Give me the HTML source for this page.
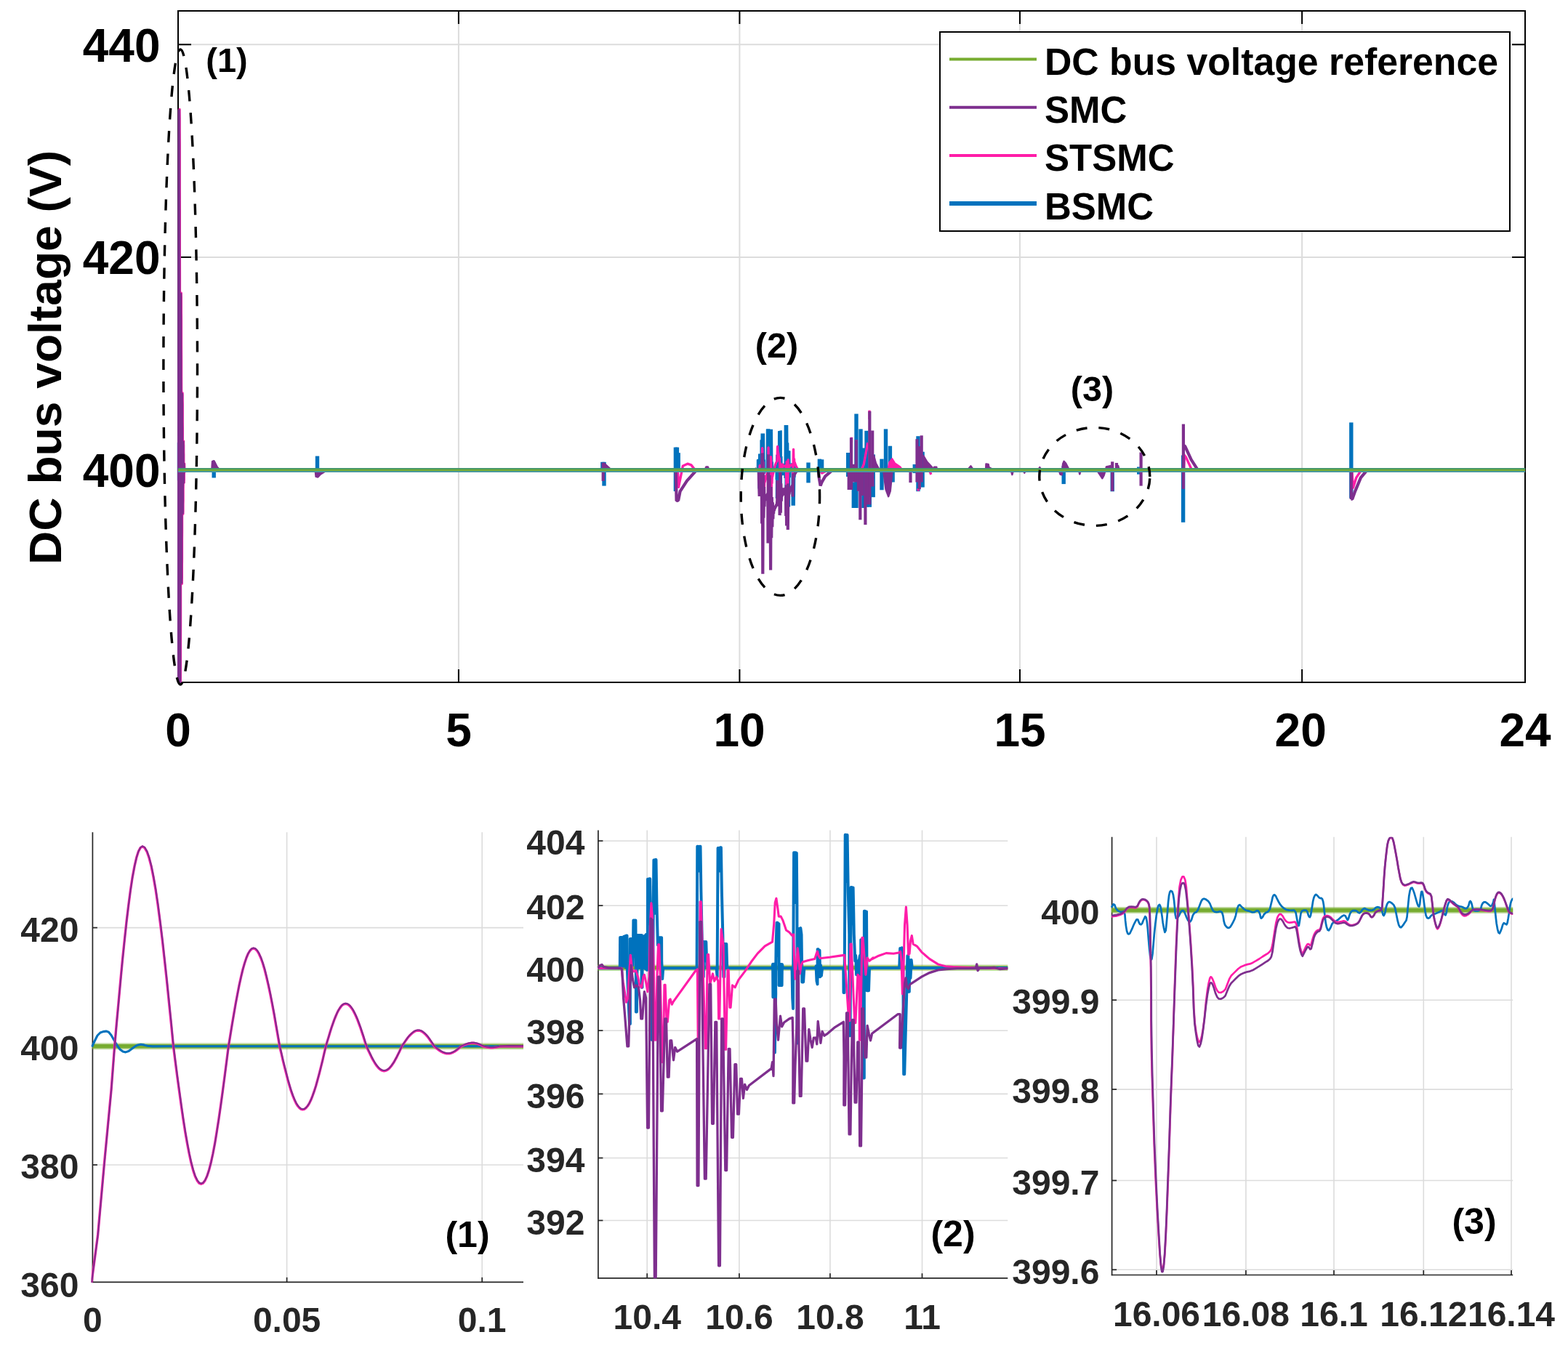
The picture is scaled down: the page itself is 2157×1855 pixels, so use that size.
<!DOCTYPE html>
<html lang="en">
<head>
<meta charset="utf-8">
<title>DC bus voltage</title>
<style>
html,body{margin:0;padding:0;background:#fff;}
body{width:2157px;height:1855px;overflow:hidden;}
svg{display:block;}
</style>
</head>
<body>
<svg width="2157" height="1855" viewBox="0 0 2157 1855" font-family='"Liberation Sans", sans-serif' font-weight="bold">
<rect x="0" y="0" width="2157" height="1855" fill="#fff"/>
<g id="main">
<line x1="630.90" y1="15.00" x2="630.90" y2="939.00" stroke="#dcdcdc" stroke-width="2" />
<line x1="1017.40" y1="15.00" x2="1017.40" y2="939.00" stroke="#dcdcdc" stroke-width="2" />
<line x1="1403.00" y1="15.00" x2="1403.00" y2="939.00" stroke="#dcdcdc" stroke-width="2" />
<line x1="1791.10" y1="15.00" x2="1791.10" y2="939.00" stroke="#dcdcdc" stroke-width="2" />
<line x1="245.00" y1="646.50" x2="2098.00" y2="646.50" stroke="#dcdcdc" stroke-width="2" />
<line x1="245.00" y1="353.90" x2="2098.00" y2="353.90" stroke="#dcdcdc" stroke-width="2" />
<line x1="245.00" y1="61.30" x2="2098.00" y2="61.30" stroke="#dcdcdc" stroke-width="2" />
<rect x="245.0" y="15.0" width="1853.0" height="924.0" fill="none" stroke="#000" stroke-width="2"/>
<line x1="630.90" y1="939.00" x2="630.90" y2="921.00" stroke="#000" stroke-width="2" />
<line x1="630.90" y1="15.00" x2="630.90" y2="33.00" stroke="#000" stroke-width="2" />
<line x1="1017.40" y1="939.00" x2="1017.40" y2="921.00" stroke="#000" stroke-width="2" />
<line x1="1017.40" y1="15.00" x2="1017.40" y2="33.00" stroke="#000" stroke-width="2" />
<line x1="1403.00" y1="939.00" x2="1403.00" y2="921.00" stroke="#000" stroke-width="2" />
<line x1="1403.00" y1="15.00" x2="1403.00" y2="33.00" stroke="#000" stroke-width="2" />
<line x1="1791.10" y1="939.00" x2="1791.10" y2="921.00" stroke="#000" stroke-width="2" />
<line x1="1791.10" y1="15.00" x2="1791.10" y2="33.00" stroke="#000" stroke-width="2" />
<line x1="245.00" y1="646.50" x2="263.00" y2="646.50" stroke="#000" stroke-width="2" />
<line x1="2098.00" y1="646.50" x2="2080.00" y2="646.50" stroke="#000" stroke-width="2" />
<line x1="245.00" y1="353.90" x2="263.00" y2="353.90" stroke="#000" stroke-width="2" />
<line x1="2098.00" y1="353.90" x2="2080.00" y2="353.90" stroke="#000" stroke-width="2" />
<line x1="245.00" y1="61.30" x2="263.00" y2="61.30" stroke="#000" stroke-width="2" />
<line x1="2098.00" y1="61.30" x2="2080.00" y2="61.30" stroke="#000" stroke-width="2" />
<clipPath id="cm"><rect x="243.8" y="15" width="1855.4" height="925"/></clipPath>
<g clip-path="url(#cm)">
<polyline points="245.3,647.9 245.3,634.4 245.4,620.0 245.5,612.8 245.5,610.3 245.6,609.4 245.6,611.3 245.7,619.1 245.7,631.7 245.8,644.3 245.8,654.3 245.9,659.7 246.0,661.3 246.0,658.8 246.1,653.4 246.1,647.9 246.2,643.8 246.3,642.2 246.3,643.3 246.4,645.6 246.5,646.9 246.8,646.5 253.9,646.5" fill="none" stroke="#0072BD" stroke-width="5.4" stroke-linejoin="bevel" stroke-linecap="butt" />
<polyline points="294.2,646.3 294.2,657.5" fill="none" stroke="#0072BD" stroke-width="5.4" stroke-linejoin="bevel" stroke-linecap="butt" />
<polyline points="436.5,627.6 436.5,650.7" fill="none" stroke="#0072BD" stroke-width="5.4" stroke-linejoin="bevel" stroke-linecap="butt" />
<polyline points="828.9,635.8 828.9,646.4" fill="none" stroke="#0072BD" stroke-width="5.4" stroke-linejoin="bevel" stroke-linecap="butt" />
<polyline points="831.0,635.8 831.0,668.6" fill="none" stroke="#0072BD" stroke-width="5.4" stroke-linejoin="bevel" stroke-linecap="butt" />
<polyline points="929.4,615.6 929.4,676.1" fill="none" stroke="#0072BD" stroke-width="5.4" stroke-linejoin="bevel" stroke-linecap="butt" />
<polyline points="931.4,615.6 931.4,646.4" fill="none" stroke="#0072BD" stroke-width="5.4" stroke-linejoin="bevel" stroke-linecap="butt" />
<polyline points="933.2,623.2 933.2,646.4" fill="none" stroke="#0072BD" stroke-width="5.4" stroke-linejoin="bevel" stroke-linecap="butt" />
<polyline points="1039.7,646.7 1043.4,646.7 1043.5,632.5 1043.6,644.2 1043.7,632.5 1043.8,645.9 1043.9,632.5 1043.9,639.9 1044.1,632.1 1044.2,645.3 1044.3,631.9 1044.4,646.3 1044.5,631.7 1044.6,647.3 1044.7,655.6 1045.1,672.5 1045.2,633.1 1045.3,642.4 1045.4,633.1 1045.5,645.3 1045.6,633.1 1045.7,624.6 1045.9,641.2 1046.0,624.6 1046.1,646.8 1046.2,666.9 1046.4,631.5 1046.5,646.6 1046.6,631.5 1046.7,646.3 1046.8,631.5 1046.9,646.0 1047.0,631.5 1047.1,655.6 1047.2,632.6 1047.3,646.1 1047.4,632.1 1047.5,646.5 1047.6,631.6 1047.7,647.0 1047.8,631.2 1047.9,647.5 1048.1,630.7 1048.1,605.5 1048.2,626.2 1048.4,605.3 1048.6,626.2 1048.7,645.8 1048.8,679.9 1049.0,616.4 1049.2,596.6 1049.3,621.3 1049.4,596.5 1049.6,616.4 1049.8,636.0 1049.9,632.6 1050.0,644.2 1050.1,632.6 1050.2,645.9 1050.3,632.6 1050.4,643.4 1050.5,651.7 1050.7,646.7 1056.3,646.7 1056.5,590.4 1056.7,601.7 1056.9,590.4 1057.0,611.5 1057.2,636.0 1057.4,650.7 1057.5,634.5 1057.7,643.4 1057.8,634.5 1058.0,646.7 1059.6,646.7 1059.8,650.7 1059.9,591.1 1060.1,601.7 1060.3,590.9 1060.5,611.5 1060.7,631.1 1060.9,650.7 1061.0,635.5 1061.1,644.8 1061.3,635.5 1061.4,646.7 1062.6,646.7 1062.6,646.7 1069.0,646.7 1069.1,644.8 1069.2,660.1 1069.3,644.8 1069.4,659.3 1069.5,644.8 1069.6,658.6 1069.4,685.8 1069.7,636.0 1069.8,625.7 1070.0,640.9 1070.1,626.2 1070.2,654.6 1070.3,644.9 1070.4,654.6 1070.5,644.9 1070.6,654.6 1070.7,644.9 1070.8,646.7 1072.3,646.7 1072.4,660.5 1072.5,665.4 1072.6,613.4 1072.7,593.2 1072.9,616.4 1073.0,593.2 1073.1,593.4 1073.2,616.4 1073.3,681.4 1073.4,636.0 1073.5,628.4 1073.7,645.8 1073.8,628.1 1073.9,631.1 1074.0,653.2 1074.1,646.7 1074.2,653.2 1074.4,646.7 1076.3,646.7 1076.4,645.8 1076.5,652.7 1076.6,654.1 1076.7,638.0 1076.8,650.7 1076.9,638.4 1077.1,650.7 1077.2,645.3 1077.3,650.2 1077.4,646.7 1081.0,646.7 1081.1,658.1 1081.3,611.5 1081.3,585.0 1081.5,606.6 1081.6,585.1 1081.7,596.7 1081.8,611.5 1082.0,631.1 1082.1,677.9 1082.2,626.2 1082.3,609.3 1082.4,626.2 1082.6,609.4 1082.7,621.3 1082.8,631.1 1082.9,643.4 1083.1,640.9 1083.2,649.7 1083.3,643.4 1083.5,650.7 1083.6,643.4 1083.7,640.9 1083.8,650.7 1083.9,633.5 1084.1,636.0 1084.3,655.6 1084.4,697.6 1084.6,620.3 1084.7,633.5 1084.8,620.5 1084.9,636.0 1085.0,657.1 1085.1,647.3 1085.2,657.1 1085.4,646.7 1085.8,646.7 1085.8,646.6 1090.4,646.6 1090.5,637.5 1090.7,645.4 1090.8,637.3 1091.0,646.4 1091.2,695.8 1091.6,656.2 1091.8,641.0 1092.0,657.6 1092.1,642.9 1092.3,651.3 1092.4,642.9 1092.5,646.6 1108.7,646.6" fill="none" stroke="#0072BD" stroke-width="5.4" stroke-linejoin="bevel" stroke-linecap="butt" />
<polyline points="1112.0,636.5 1112.0,664.4" fill="none" stroke="#0072BD" stroke-width="5.4" stroke-linejoin="bevel" stroke-linecap="butt" />
<polyline points="1127.4,631.6 1127.4,648.6" fill="none" stroke="#0072BD" stroke-width="5.4" stroke-linejoin="bevel" stroke-linecap="butt" />
<polyline points="1130.6,632.3 1130.6,648.6" fill="none" stroke="#0072BD" stroke-width="5.4" stroke-linejoin="bevel" stroke-linecap="butt" />
<polyline points="1166.7,623.0 1166.7,656.0" fill="none" stroke="#0072BD" stroke-width="5.4" stroke-linejoin="bevel" stroke-linecap="butt" />
<polyline points="1174.3,663.5 1174.3,699.0" fill="none" stroke="#0072BD" stroke-width="5.4" stroke-linejoin="bevel" stroke-linecap="butt" />
<polyline points="1178.0,569.4 1178.0,699.0" fill="none" stroke="#0072BD" stroke-width="5.4" stroke-linejoin="bevel" stroke-linecap="butt" />
<polyline points="1184.0,590.4 1184.0,651.1" fill="none" stroke="#0072BD" stroke-width="5.4" stroke-linejoin="bevel" stroke-linecap="butt" />
<polyline points="1187.9,616.5 1187.9,699.0" fill="none" stroke="#0072BD" stroke-width="5.4" stroke-linejoin="bevel" stroke-linecap="butt" />
<polyline points="1192.0,592.8 1192.0,697.8" fill="none" stroke="#0072BD" stroke-width="5.4" stroke-linejoin="bevel" stroke-linecap="butt" />
<polyline points="1196.3,651.1 1196.3,697.8" fill="none" stroke="#0072BD" stroke-width="5.4" stroke-linejoin="bevel" stroke-linecap="butt" />
<polyline points="1201.2,625.4 1201.2,684.2" fill="none" stroke="#0072BD" stroke-width="5.4" stroke-linejoin="bevel" stroke-linecap="butt" />
<polyline points="1213.0,631.6 1213.0,674.3" fill="none" stroke="#0072BD" stroke-width="5.4" stroke-linejoin="bevel" stroke-linecap="butt" />
<polyline points="1218.5,590.4 1218.5,651.1" fill="none" stroke="#0072BD" stroke-width="5.4" stroke-linejoin="bevel" stroke-linecap="butt" />
<polyline points="1224.4,613.7 1224.4,663.5" fill="none" stroke="#0072BD" stroke-width="5.4" stroke-linejoin="bevel" stroke-linecap="butt" />
<polyline points="1228.1,638.8 1228.1,663.5" fill="none" stroke="#0072BD" stroke-width="5.4" stroke-linejoin="bevel" stroke-linecap="butt" />
<polyline points="1258.3,639.0 1258.3,651.1" fill="none" stroke="#0072BD" stroke-width="5.4" stroke-linejoin="bevel" stroke-linecap="butt" />
<polyline points="1263.0,600.2 1263.0,676.2" fill="none" stroke="#0072BD" stroke-width="5.4" stroke-linejoin="bevel" stroke-linecap="butt" />
<polyline points="1269.1,621.7 1269.1,670.6" fill="none" stroke="#0072BD" stroke-width="5.4" stroke-linejoin="bevel" stroke-linecap="butt" />
<polyline points="1463.2,641.1 1463.2,666.1" fill="none" stroke="#0072BD" stroke-width="5.4" stroke-linejoin="bevel" stroke-linecap="butt" />
<polyline points="1530.2,646.6 1530.2,676.3" fill="none" stroke="#0072BD" stroke-width="5.4" stroke-linejoin="bevel" stroke-linecap="butt" />
<polyline points="1566.7,642.5 1566.7,652.7" fill="none" stroke="#0072BD" stroke-width="5.4" stroke-linejoin="bevel" stroke-linecap="butt" />
<polyline points="1627.6,626.5 1627.6,718.8" fill="none" stroke="#0072BD" stroke-width="5.4" stroke-linejoin="bevel" stroke-linecap="butt" />
<polyline points="1858.8,581.4 1858.8,685.6" fill="none" stroke="#0072BD" stroke-width="5.4" stroke-linejoin="bevel" stroke-linecap="butt" />
<polyline points="245.9,1263.7 246.0,1231.2 246.1,1115.8 246.2,935.5 246.4,755.2 246.4,646.5 246.5,591.0 246.5,536.1 246.6,482.7 246.6,431.3 246.6,382.6 246.7,337.2 246.7,295.8 246.8,258.7 246.8,226.5 246.8,199.6 246.9,178.3 246.9,162.9 246.9,153.6 247.0,150.5 247.0,153.6 247.1,162.9 247.1,178.3 247.2,199.6 247.2,226.5 247.2,258.7 247.3,295.8 247.3,337.2 247.4,382.6 247.4,431.3 247.5,482.7 247.5,536.1 247.6,591.0 247.6,646.5 247.6,684.7 247.7,722.4 247.7,759.2 247.8,794.6 247.8,828.1 247.8,859.3 247.9,887.8 247.9,913.3 248.0,935.5 248.0,954.0 248.0,968.7 248.1,979.3 248.1,985.7 248.1,987.8 248.2,985.7 248.2,979.3 248.3,968.7 248.3,954.0 248.3,935.5 248.4,913.3 248.4,887.8 248.5,859.3 248.5,828.1 248.5,794.6 248.6,759.2 248.6,722.4 248.7,684.7 248.7,646.5 248.7,619.3 248.8,592.4 248.8,566.2 248.8,541.0 248.9,517.1 248.9,494.9 248.9,474.5 249.0,456.3 249.0,440.6 249.0,427.4 249.1,416.9 249.1,409.4 249.2,404.8 249.2,403.3 249.2,404.8 249.3,409.4 249.3,416.9 249.3,427.4 249.4,440.6 249.4,456.3 249.4,474.5 249.5,494.9 249.5,517.1 249.6,541.0 249.6,566.2 249.6,592.4 249.7,619.3 249.7,646.5 249.7,664.0 249.8,681.4 249.8,698.2 249.8,714.5 249.9,729.9 249.9,744.2 249.9,757.3 250.0,769.0 250.0,779.2 250.0,787.7 250.1,794.4 250.1,799.3 250.1,802.2 250.2,803.2 250.2,802.2 250.2,799.3 250.3,794.4 250.3,787.7 250.3,779.2 250.4,769.0 250.4,757.3 250.4,744.2 250.5,729.9 250.5,714.5 250.5,698.2 250.6,681.4 250.6,664.0 250.6,646.5 250.6,634.7 250.7,622.9 250.7,611.5 250.7,600.6 250.8,590.2 250.8,580.5 250.8,571.7 250.8,563.8 250.9,556.9 250.9,551.1 250.9,546.6 251.0,543.3 251.0,541.3 251.0,540.7 251.0,541.3 251.1,543.3 251.1,546.6 251.1,551.1 251.2,556.9 251.2,563.8 251.2,571.7 251.2,580.5 251.3,590.2 251.3,600.6 251.3,611.5 251.4,622.9 251.4,634.7 251.4,646.5 251.5,653.3 251.5,660.0 251.5,666.6 251.5,672.9 251.6,678.8 251.6,684.4 251.6,689.5 251.6,694.0 251.7,697.9 251.7,701.2 251.7,703.9 251.7,705.7 251.7,706.9 251.8,707.3 251.8,706.9 251.8,705.7 251.9,703.9 251.9,701.2 251.9,697.9 251.9,694.0 252.0,689.5 252.0,684.4 252.0,678.8 252.0,672.9 252.1,666.6 252.1,660.0 252.1,653.3 252.1,646.5 252.2,642.1 252.2,637.7 252.2,633.5 252.2,629.4 252.2,625.5 252.3,621.9 252.3,618.6 252.3,615.6 252.3,613.1 252.4,610.9 252.4,609.2 252.4,608.0 252.4,607.3 252.5,607.0 252.5,607.3 252.5,608.0 252.5,609.2 252.5,610.9 252.6,613.1 252.6,615.6 252.6,618.6 252.6,621.9 252.7,625.5 252.7,629.4 252.7,633.5 252.7,637.7 252.7,642.1 252.8,646.5 252.8,648.5 252.8,650.5 252.8,652.4 252.8,654.2 252.9,656.0 252.9,657.6 252.9,659.1 252.9,660.5 252.9,661.6 253.0,662.6 253.0,663.3 253.0,663.9 253.0,664.2 253.0,664.3 253.1,664.2 253.1,663.9 253.1,663.3 253.1,662.6 253.1,661.6 253.2,660.5 253.2,659.1 253.2,657.6 253.2,656.0 253.2,654.2 253.2,652.4 253.3,650.5 253.3,648.5 253.3,646.5 253.3,645.6 253.3,644.6 253.3,643.7 253.4,642.8 253.4,642.0 253.4,641.2 253.4,640.5 253.4,639.9 253.4,639.3 253.5,638.9 253.5,638.5 253.5,638.2 253.5,638.1 253.5,638.0 253.5,638.1 253.6,638.2 253.6,638.5 253.6,638.9 253.6,639.3 253.6,639.9 253.6,640.5 253.7,641.2 253.7,642.0 253.7,642.8 253.7,643.7 253.7,644.6 253.7,645.6 253.7,646.5 253.8,646.8 253.8,647.2 253.8,647.5 253.8,647.8 253.8,648.1 253.8,648.4 253.8,648.7 253.8,648.9 253.8,649.1 253.9,649.3 253.9,649.4 253.9,649.5 253.9,649.5 253.9,649.6 253.9,649.5 253.9,649.5 253.9,649.4 254.0,649.3 254.0,649.1 254.0,648.9 254.0,648.7 254.0,648.4 254.0,648.1 254.0,647.8 254.0,647.5 254.1,647.2 254.1,646.8 254.1,646.5 254.2,645.6 254.6,646.1" fill="none" stroke="#FF1DA8" stroke-width="3.4" stroke-linejoin="round" stroke-linecap="butt" />
<polyline points="932.3,646.4 933.5,670.3 936.4,655.8 939.3,641.3 945.8,638.2 950.8,639.9 955.9,646.4" fill="none" stroke="#FF1DA8" stroke-width="3.4" stroke-linejoin="round" stroke-linecap="butt" />
<polyline points="1039.7,646.7 1043.7,646.7 1043.9,653.2 1044.5,662.5 1044.7,660.5 1044.9,650.7 1045.2,640.7 1045.4,647.3 1045.7,648.3 1046.1,647.8 1046.4,650.7 1046.7,654.6 1047.1,655.6 1047.3,650.7 1047.5,649.7 1047.8,653.2 1048.0,657.6 1048.3,650.7 1048.5,626.2 1048.7,616.6 1048.9,623.7 1049.1,650.7 1049.4,679.9 1049.6,650.7 1049.9,635.8 1050.2,650.7 1050.6,690.2 1050.9,654.4 1051.3,671.6 1051.7,661.5 1051.9,661.0 1052.1,663.5 1052.3,662.5 1056.1,647.8 1056.4,647.3 1056.6,679.4 1057.0,615.9 1057.8,683.8 1058.1,640.4 1058.3,640.4 1058.6,654.1 1059.0,649.2 1059.3,652.7 1059.6,650.7 1059.9,652.7 1060.1,670.1 1060.4,628.6 1060.8,636.0 1061.1,684.3 1061.6,647.5 1061.9,664.9 1062.3,654.6 1062.7,655.6 1063.3,652.2 1064.4,648.3 1065.5,643.8 1066.5,639.9 1067.8,636.5 1069.0,634.5 1069.3,626.2 1069.5,616.4 1069.7,614.4 1069.9,618.8 1070.1,622.7 1070.5,622.7 1070.8,624.7 1071.4,629.1 1071.9,630.1 1072.3,631.6 1072.6,631.1 1072.7,640.9 1072.9,651.7 1073.0,645.8 1073.3,637.5 1073.5,643.4 1073.7,649.2 1073.8,645.8 1074.1,643.8 1075.1,643.1 1076.2,642.4 1076.4,639.9 1076.6,638.9 1076.8,640.9 1077.1,642.1 1078.7,641.6 1080.4,640.9 1081.2,640.7 1082.0,671.1 1082.2,635.5 1082.9,672.1 1083.4,649.7 1083.7,650.7 1083.7,679.9 1084.2,632.6 1084.7,649.7 1085.0,641.9 1085.4,643.4 1086.0,641.9 1085.8,642.4 1086.9,641.0 1088.2,639.7 1089.4,640.0 1090.3,639.5 1090.6,639.0 1090.7,643.9 1091.0,658.6 1091.1,646.4 1091.3,626.7 1091.5,618.4 1091.7,626.7 1091.9,640.5 1092.1,640.0 1092.3,634.1 1092.5,631.6 1092.7,635.6 1093.3,636.6 1094.2,639.5 1095.5,642.4 1096.9,644.9 1098.1,645.9 1099.4,646.1 1101.0,646.4 1103.7,646.6 1108.7,646.9" fill="none" stroke="#FF1DA8" stroke-width="3.4" stroke-linejoin="round" stroke-linecap="butt" />
<polyline points="1127.8,647.4 1130.9,651.1 1135.8,648.6" fill="none" stroke="#FF1DA8" stroke-width="3.4" stroke-linejoin="round" stroke-linecap="butt" />
<polyline points="1171.4,601.7 1171.4,609.1" fill="none" stroke="#FF1DA8" stroke-width="3.4" stroke-linejoin="round" stroke-linecap="butt" />
<polyline points="1177.8,605.4 1177.8,614.1" fill="none" stroke="#FF1DA8" stroke-width="3.4" stroke-linejoin="round" stroke-linecap="butt" />
<polyline points="1196.0,564.7 1196.0,577.0" fill="none" stroke="#FF1DA8" stroke-width="3.4" stroke-linejoin="round" stroke-linecap="butt" />
<polyline points="1200.6,658.5 1200.6,669.0" fill="none" stroke="#FF1DA8" stroke-width="3.4" stroke-linejoin="round" stroke-linecap="butt" />
<polyline points="1263.2,672.1 1263.2,675.6" fill="none" stroke="#FF1DA8" stroke-width="3.4" stroke-linejoin="round" stroke-linecap="butt" />
<polyline points="1185.2,646.2 1188.3,638.8 1192.0,619.0 1193.8,609.1" fill="none" stroke="#FF1DA8" stroke-width="3.4" stroke-linejoin="round" stroke-linecap="butt" />
<polyline points="1272.8,643.7 1275.9,641.2 1280.9,653.0" fill="none" stroke="#FF1DA8" stroke-width="3.4" stroke-linejoin="round" stroke-linecap="butt" />
<polyline points="1628.5,646.6 1629.4,626.5 1631.7,629.6 1638.7,645.0" fill="none" stroke="#FF1DA8" stroke-width="3.4" stroke-linejoin="round" stroke-linecap="butt" />
<polyline points="1859.8,648.1 1861.4,671.3 1865.7,657.4 1871.9,648.1" fill="none" stroke="#FF1DA8" stroke-width="3.4" stroke-linejoin="round" stroke-linecap="butt" />
<polyline points="1221.6,646.2 1223.5,636.3 1227.2,631.4 1230.9,637.5 1238.3,642.5 1240.7,646.2" fill="#FF1DA8" stroke="#FF1DA8" stroke-width="2.5" stroke-linejoin="round" stroke-linecap="butt" />
<polyline points="245.2,1263.7 245.3,1231.2 245.4,1115.8 245.5,935.5 245.7,755.2 245.7,646.5 245.8,591.0 245.8,536.1 245.9,482.7 245.9,431.3 245.9,382.6 246.0,337.2 246.0,295.8 246.1,258.7 246.1,226.5 246.1,199.6 246.2,178.3 246.2,162.9 246.2,153.6 246.3,150.5 246.3,153.6 246.4,162.9 246.4,178.3 246.5,199.6 246.5,226.5 246.5,258.7 246.6,295.8 246.6,337.2 246.7,382.6 246.7,431.3 246.8,482.7 246.8,536.1 246.9,591.0 246.9,646.5 246.9,684.7 247.0,722.4 247.0,759.2 247.1,794.6 247.1,828.1 247.1,859.3 247.2,887.8 247.2,913.3 247.3,935.5 247.3,954.0 247.3,968.7 247.4,979.3 247.4,985.7 247.4,987.8 247.5,985.7 247.5,979.3 247.6,968.7 247.6,954.0 247.6,935.5 247.7,913.3 247.7,887.8 247.8,859.3 247.8,828.1 247.8,794.6 247.9,759.2 247.9,722.4 248.0,684.7 248.0,646.5 248.0,619.3 248.1,592.4 248.1,566.2 248.1,541.0 248.2,517.1 248.2,494.9 248.2,474.5 248.3,456.3 248.3,440.6 248.3,427.4 248.4,416.9 248.4,409.4 248.5,404.8 248.5,403.3 248.5,404.8 248.6,409.4 248.6,416.9 248.6,427.4 248.7,440.6 248.7,456.3 248.7,474.5 248.8,494.9 248.8,517.1 248.9,541.0 248.9,566.2 248.9,592.4 249.0,619.3 249.0,646.5 249.0,664.0 249.1,681.4 249.1,698.2 249.1,714.5 249.2,729.9 249.2,744.2 249.2,757.3 249.3,769.0 249.3,779.2 249.3,787.7 249.4,794.4 249.4,799.3 249.4,802.2 249.5,803.2 249.5,802.2 249.5,799.3 249.6,794.4 249.6,787.7 249.6,779.2 249.7,769.0 249.7,757.3 249.7,744.2 249.8,729.9 249.8,714.5 249.8,698.2 249.9,681.4 249.9,664.0 249.9,646.5 249.9,634.7 250.0,622.9 250.0,611.5 250.0,600.6 250.1,590.2 250.1,580.5 250.1,571.7 250.1,563.8 250.2,556.9 250.2,551.1 250.2,546.6 250.3,543.3 250.3,541.3 250.3,540.7 250.3,541.3 250.4,543.3 250.4,546.6 250.4,551.1 250.5,556.9 250.5,563.8 250.5,571.7 250.5,580.5 250.6,590.2 250.6,600.6 250.6,611.5 250.7,622.9 250.7,634.7 250.7,646.5 250.8,653.3 250.8,660.0 250.8,666.6 250.8,672.9 250.9,678.8 250.9,684.4 250.9,689.5 250.9,694.0 251.0,697.9 251.0,701.2 251.0,703.9 251.0,705.7 251.0,706.9 251.1,707.3 251.1,706.9 251.1,705.7 251.2,703.9 251.2,701.2 251.2,697.9 251.2,694.0 251.3,689.5 251.3,684.4 251.3,678.8 251.3,672.9 251.4,666.6 251.4,660.0 251.4,653.3 251.4,646.5 251.5,642.1 251.5,637.7 251.5,633.5 251.5,629.4 251.5,625.5 251.6,621.9 251.6,618.6 251.6,615.6 251.6,613.1 251.7,610.9 251.7,609.2 251.7,608.0 251.7,607.3 251.8,607.0 251.8,607.3 251.8,608.0 251.8,609.2 251.8,610.9 251.9,613.1 251.9,615.6 251.9,618.6 251.9,621.9 252.0,625.5 252.0,629.4 252.0,633.5 252.0,637.7 252.0,642.1 252.1,646.5 252.1,648.5 252.1,650.5 252.1,652.4 252.1,654.2 252.2,656.0 252.2,657.6 252.2,659.1 252.2,660.5 252.2,661.6 252.3,662.6 252.3,663.3 252.3,663.9 252.3,664.2 252.3,664.3 252.4,664.2 252.4,663.9 252.4,663.3 252.4,662.6 252.4,661.6 252.5,660.5 252.5,659.1 252.5,657.6 252.5,656.0 252.5,654.2 252.5,652.4 252.6,650.5 252.6,648.5 252.6,646.5 252.6,645.6 252.6,644.6 252.6,643.7 252.7,642.8 252.7,642.0 252.7,641.2 252.7,640.5 252.7,639.9 252.7,639.3 252.8,638.9 252.8,638.5 252.8,638.2 252.8,638.1 252.8,638.0 252.8,638.1 252.9,638.2 252.9,638.5 252.9,638.9 252.9,639.3 252.9,639.9 252.9,640.5 253.0,641.2 253.0,642.0 253.0,642.8 253.0,643.7 253.0,644.6 253.0,645.6 253.0,646.5 253.1,646.8 253.1,647.2 253.1,647.5 253.1,647.8 253.1,648.1 253.1,648.4 253.1,648.7 253.1,648.9 253.1,649.1 253.2,649.3 253.2,649.4 253.2,649.5 253.2,649.5 253.2,649.6 253.2,649.5 253.2,649.5 253.2,649.4 253.3,649.3 253.3,649.1 253.3,648.9 253.3,648.7 253.3,648.4 253.3,648.1 253.3,647.8 253.3,647.5 253.4,647.2 253.4,646.8 253.4,646.5 253.5,645.6 253.9,646.1" fill="none" stroke="#7E2F8E" stroke-width="3.5" stroke-linejoin="bevel" stroke-linecap="butt" />
<polyline points="829.7,636.7 829.7,661.9" fill="none" stroke="#7E2F8E" stroke-width="4.2" stroke-linejoin="bevel" stroke-linecap="butt" />
<polyline points="929.7,646.4 930.6,689.1 933.2,688.4 935.6,676.1 945.0,661.6 956.9,648.3" fill="none" stroke="#7E2F8E" stroke-width="4.2" stroke-linejoin="bevel" stroke-linecap="butt" />
<polyline points="970.4,646.4 972.6,642.1 974.7,646.4" fill="none" stroke="#7E2F8E" stroke-width="4.2" stroke-linejoin="bevel" stroke-linecap="butt" />
<polyline points="1039.7,646.5 1040.1,645.3 1040.4,645.1 1040.6,646.1 1041.5,646.5 1043.5,646.7 1043.8,647.3 1044.0,660.5 1044.2,667.7 1044.7,682.9 1045.0,667.7 1045.1,655.6 1045.3,645.3 1045.5,651.7 1045.8,655.6 1046.2,654.6 1046.5,655.6 1046.8,661.5 1047.1,670.1 1047.5,657.6 1047.8,660.5 1048.1,720.6 1048.6,623.7 1048.8,624.2 1049.3,789.8 1049.9,650.7 1050.4,712.8 1051.1,670.1 1051.5,697.1 1052.0,680.2 1052.4,689.2 1052.7,683.4 1053.0,685.3 1056.3,679.4 1056.5,747.4 1057.0,625.2 1057.8,744.2 1058.6,654.1 1059.0,718.7 1059.5,671.6 1060.1,784.4 1060.6,670.1 1061.2,740.3 1061.8,684.1 1062.3,725.1 1062.8,691.2 1063.3,714.3 1063.8,697.8 1064.1,706.9 1064.4,700.5 1064.8,703.0 1065.1,701.0 1068.9,693.2 1069.0,690.2 1069.2,696.6 1069.5,661.0 1069.7,672.6 1070.0,679.9 1070.4,668.9 1070.6,673.8 1071.0,671.8 1071.9,670.1 1072.4,669.6 1072.5,682.4 1072.6,709.1 1072.9,692.2 1073.1,672.6 1073.3,648.0 1073.5,682.4 1073.8,705.9 1074.0,687.3 1074.3,665.4 1074.6,677.5 1074.8,689.7 1075.2,675.0 1075.5,679.9 1075.7,683.4 1076.0,678.9 1076.3,678.9 1076.5,681.9 1076.7,671.3 1077.0,677.5 1077.1,681.4 1077.4,676.0 1077.8,678.0 1078.3,677.0 1079.6,674.0 1081.0,671.6 1081.1,687.3 1081.2,710.1 1081.4,682.4 1081.6,667.4 1081.8,687.3 1082.1,723.6 1082.3,692.2 1082.6,670.6 1082.8,687.3 1083.0,708.9 1083.3,692.2 1083.5,680.9 1083.7,702.0 1083.8,729.0 1084.1,692.2 1084.2,665.4 1084.5,677.5 1084.7,688.0 1085.0,673.3 1085.3,677.0 1085.5,680.2 1085.8,677.0 1090.1,668.0 1090.5,668.0 1090.6,683.6 1091.3,653.7 1091.5,651.3 1091.6,655.2 1091.9,656.2 1092.2,654.2 1093.0,652.7 1094.2,650.5 1095.5,648.8 1096.9,647.6 1098.3,647.1 1100.1,646.9 1103.2,646.8 1103.4,644.9 1103.6,647.8 1103.9,646.6 1105.5,646.6 1106.4,646.4 1107.2,647.1 1108.7,646.9" fill="none" stroke="#7E2F8E" stroke-width="4.2" stroke-linejoin="bevel" stroke-linecap="butt" />
<polyline points="1125.9,646.2 1126.9,658.5 1128.6,668.4 1130.6,663.5 1135.2,655.4 1143.2,648.6" fill="none" stroke="#7E2F8E" stroke-width="4.2" stroke-linejoin="bevel" stroke-linecap="butt" />
<polyline points="1167.7,646.2 1167.7,674.0" fill="none" stroke="#7E2F8E" stroke-width="4.2" stroke-linejoin="bevel" stroke-linecap="butt" />
<polyline points="1171.0,602.3 1171.0,674.0" fill="none" stroke="#7E2F8E" stroke-width="4.2" stroke-linejoin="bevel" stroke-linecap="butt" />
<polyline points="1174.1,638.8 1174.1,663.5" fill="none" stroke="#7E2F8E" stroke-width="4.2" stroke-linejoin="bevel" stroke-linecap="butt" />
<polyline points="1177.8,605.4 1177.8,663.5" fill="none" stroke="#7E2F8E" stroke-width="4.2" stroke-linejoin="bevel" stroke-linecap="butt" />
<polyline points="1180.9,646.2 1180.9,675.8" fill="none" stroke="#7E2F8E" stroke-width="4.2" stroke-linejoin="bevel" stroke-linecap="butt" />
<polyline points="1183.3,646.2 1183.3,715.3" fill="none" stroke="#7E2F8E" stroke-width="4.2" stroke-linejoin="bevel" stroke-linecap="butt" />
<polyline points="1186.4,646.2 1186.4,682.0" fill="none" stroke="#7E2F8E" stroke-width="4.2" stroke-linejoin="bevel" stroke-linecap="butt" />
<polyline points="1190.4,646.2 1190.4,722.1" fill="none" stroke="#7E2F8E" stroke-width="4.2" stroke-linejoin="bevel" stroke-linecap="butt" />
<polyline points="1193.8,646.2 1193.8,694.3" fill="none" stroke="#7E2F8E" stroke-width="4.2" stroke-linejoin="bevel" stroke-linecap="butt" />
<polyline points="1196.3,565.9 1196.3,694.3" fill="none" stroke="#7E2F8E" stroke-width="4.2" stroke-linejoin="bevel" stroke-linecap="butt" />
<polyline points="1200.2,592.5 1200.2,669.6" fill="none" stroke="#7E2F8E" stroke-width="4.2" stroke-linejoin="bevel" stroke-linecap="butt" />
<polyline points="1252.5,648.6 1252.5,664.1" fill="none" stroke="#7E2F8E" stroke-width="4.2" stroke-linejoin="bevel" stroke-linecap="butt" />
<polyline points="1261.5,604.2 1261.5,663.5" fill="none" stroke="#7E2F8E" stroke-width="4.2" stroke-linejoin="bevel" stroke-linecap="butt" />
<polyline points="1264.8,614.1 1264.8,673.3" fill="none" stroke="#7E2F8E" stroke-width="4.2" stroke-linejoin="bevel" stroke-linecap="butt" />
<polyline points="1267.7,599.3 1267.7,663.5" fill="none" stroke="#7E2F8E" stroke-width="4.2" stroke-linejoin="bevel" stroke-linecap="butt" />
<polyline points="1530.2,635.3 1530.2,675.8" fill="none" stroke="#7E2F8E" stroke-width="4.2" stroke-linejoin="bevel" stroke-linecap="butt" />
<polyline points="1536.0,637.0 1536.0,646.9" fill="none" stroke="#7E2F8E" stroke-width="4.2" stroke-linejoin="bevel" stroke-linecap="butt" />
<polyline points="1569.6,622.5 1569.6,668.6" fill="none" stroke="#7E2F8E" stroke-width="4.2" stroke-linejoin="bevel" stroke-linecap="butt" />
<polyline points="1627.9,583.6 1627.9,672.8" fill="none" stroke="#7E2F8E" stroke-width="4.2" stroke-linejoin="bevel" stroke-linecap="butt" />
<polyline points="1628.2,612.6 1630.2,614.1 1638.7,632.7 1647.2,645.9" fill="none" stroke="#7E2F8E" stroke-width="4.2" stroke-linejoin="bevel" stroke-linecap="butt" />
<polyline points="1858.8,646.6 1858.8,687.0" fill="none" stroke="#7E2F8E" stroke-width="4.2" stroke-linejoin="bevel" stroke-linecap="butt" />
<polyline points="1858.3,686.7 1860.3,686.7 1864.2,675.9 1871.9,657.4 1879.6,648.1" fill="none" stroke="#7E2F8E" stroke-width="4.2" stroke-linejoin="bevel" stroke-linecap="butt" />
<polyline points="291.4,646.3 292.1,634.9 294.4,634.3 296.0,637.2 298.9,643.0 302.2,646.3" fill="#7E2F8E" stroke="#7E2F8E" stroke-width="2.5" stroke-linejoin="round" stroke-linecap="butt" />
<polyline points="433.6,646.3 434.6,655.9 437.3,656.5 440.8,652.7 449.5,647.3 449.5,646.3" fill="#7E2F8E" stroke="#7E2F8E" stroke-width="2.5" stroke-linejoin="round" stroke-linecap="butt" />
<polyline points="830.7,637.3 833.6,639.9 839.4,645.1 839.4,646.4 830.7,646.4" fill="#7E2F8E" stroke="#7E2F8E" stroke-width="2.5" stroke-linejoin="round" stroke-linecap="butt" />
<polyline points="1201.9,626.4 1204.9,637.5 1208.6,644.3 1208.6,646.2 1201.9,646.2" fill="#7E2F8E" stroke="#7E2F8E" stroke-width="2.5" stroke-linejoin="round" stroke-linecap="butt" />
<polyline points="1215.4,648.6 1218.5,673.3 1222.2,683.2 1224.7,675.8 1227.2,651.1 1227.2,646.2 1215.4,646.2" fill="#7E2F8E" stroke="#7E2F8E" stroke-width="2.5" stroke-linejoin="round" stroke-linecap="butt" />
<polyline points="1269.8,626.4 1275.3,635.7 1282.7,643.7 1282.7,646.2 1269.8,646.2" fill="#7E2F8E" stroke="#7E2F8E" stroke-width="2.5" stroke-linejoin="round" stroke-linecap="butt" />
<polyline points="1284.8,646.2 1285.2,642.7 1288.3,642.7 1288.6,646.2" fill="#7E2F8E" stroke="#7E2F8E" stroke-width="2.5" stroke-linejoin="round" stroke-linecap="butt" />
<polyline points="1331.1,646.6 1335.5,641.4 1339.1,646.6" fill="#7E2F8E" stroke="#7E2F8E" stroke-width="2.5" stroke-linejoin="round" stroke-linecap="butt" />
<polyline points="1356.2,646.6 1356.5,638.5 1359.6,638.9 1360.5,643.2 1366.6,646.6" fill="#7E2F8E" stroke="#7E2F8E" stroke-width="2.5" stroke-linejoin="round" stroke-linecap="butt" />
<polyline points="1390.5,646.6 1392.4,653.1 1394.1,646.6" fill="#7E2F8E" stroke="#7E2F8E" stroke-width="2.5" stroke-linejoin="round" stroke-linecap="butt" />
<polyline points="1407.1,646.6 1409.3,650.6 1411.5,646.6" fill="#7E2F8E" stroke="#7E2F8E" stroke-width="2.5" stroke-linejoin="round" stroke-linecap="butt" />
<polyline points="1428.1,646.6 1430.3,643.1 1432.5,646.6" fill="#7E2F8E" stroke="#7E2F8E" stroke-width="2.5" stroke-linejoin="round" stroke-linecap="butt" />
<polyline points="1456.4,646.6 1458.5,652.7 1460.7,653.4 1462.2,638.2 1463.6,634.9 1466.5,638.2 1470.8,646.6" fill="#7E2F8E" stroke="#7E2F8E" stroke-width="2.5" stroke-linejoin="round" stroke-linecap="butt" />
<polyline points="1483.9,646.6 1485.3,652.4 1486.8,646.6" fill="#7E2F8E" stroke="#7E2F8E" stroke-width="2.5" stroke-linejoin="round" stroke-linecap="butt" />
<polyline points="1508.5,646.6 1512.8,652.7 1516.4,658.2 1518.6,654.1 1520.8,646.6" fill="#7E2F8E" stroke="#7E2F8E" stroke-width="2.5" stroke-linejoin="round" stroke-linecap="butt" />
<polyline points="1521.5,646.6 1521.8,642.5 1527.3,641.1 1528.8,646.6" fill="#7E2F8E" stroke="#7E2F8E" stroke-width="2.5" stroke-linejoin="round" stroke-linecap="butt" />
<polyline points="1537.4,646.6 1538.2,641.1 1539.6,646.6" fill="#7E2F8E" stroke="#7E2F8E" stroke-width="2.5" stroke-linejoin="round" stroke-linecap="butt" />
<polyline points="245.0,649.0 2098.0,649.0" fill="none" stroke="#4A9A9C" stroke-width="1.9" stroke-linejoin="round" stroke-linecap="butt" />
<polyline points="245.0,645.0 2098.0,645.0" fill="none" stroke="#48986A" stroke-width="1.9" stroke-linejoin="round" stroke-linecap="butt" />
<polyline points="245.0,647.0 2098.0,647.0" fill="none" stroke="#77AC30" stroke-width="2.1" stroke-linejoin="round" stroke-linecap="butt" />
</g>
<text x="245.00" y="1026.50" font-size="64" fill="#000" text-anchor="middle" >0</text>
<text x="631.04" y="1026.50" font-size="64" fill="#000" text-anchor="middle" >5</text>
<text x="1017.08" y="1026.50" font-size="64" fill="#000" text-anchor="middle" >10</text>
<text x="1403.12" y="1026.50" font-size="64" fill="#000" text-anchor="middle" >15</text>
<text x="1789.17" y="1026.50" font-size="64" fill="#000" text-anchor="middle" >20</text>
<text x="2098.00" y="1026.50" font-size="64" fill="#000" text-anchor="middle" >24</text>
<text x="220.50" y="669.80" font-size="64" fill="#000" text-anchor="end" >400</text>
<text x="220.50" y="377.20" font-size="64" fill="#000" text-anchor="end" >420</text>
<text x="220.50" y="84.60" font-size="64" fill="#000" text-anchor="end" >440</text>
<text transform="translate(84.2,777) rotate(-90)" font-size="63.5" textLength="570" lengthAdjust="spacingAndGlyphs">DC bus voltage (V)</text>
<ellipse cx="248.2" cy="505" rx="23.3" ry="437" fill="none" stroke="#000" stroke-width="3.4" stroke-dasharray="15.2 16.15" stroke-dashoffset="3.5"/>
<ellipse cx="1073.4" cy="683.4" rx="54.2" ry="136" fill="none" stroke="#000" stroke-width="3.4" stroke-dasharray="15 16" stroke-dashoffset="5"/>
<ellipse cx="1505.8" cy="655.9" rx="76" ry="67.5" fill="none" stroke="#000" stroke-width="3.4" stroke-dasharray="15 16" stroke-dashoffset="-2.5"/>
<text x="312.00" y="99.00" font-size="47" fill="#000" text-anchor="middle" >(1)</text>
<text x="1068.50" y="492.00" font-size="48.5" fill="#000" text-anchor="middle" >(2)</text>
<text x="1502.50" y="551.50" font-size="48.5" fill="#000" text-anchor="middle" >(3)</text>
<rect x="1293" y="44" width="784" height="274" fill="#fff" stroke="#000" stroke-width="2"/>
<line x1="1306.00" y1="81.50" x2="1426.00" y2="81.50" stroke="#77AC30" stroke-width="4" />
<text x="1437.00" y="103.00" font-size="51" fill="#000" text-anchor="start" textLength="624" lengthAdjust="spacingAndGlyphs" >DC bus voltage reference</text>
<line x1="1306.00" y1="147.70" x2="1426.00" y2="147.70" stroke="#7E2F8E" stroke-width="4" />
<text x="1437.00" y="169.20" font-size="51" fill="#000" text-anchor="start" >SMC</text>
<line x1="1306.00" y1="213.90" x2="1426.00" y2="213.90" stroke="#FF1DA8" stroke-width="4" />
<text x="1437.00" y="235.40" font-size="51" fill="#000" text-anchor="start" >STSMC</text>
<line x1="1306.00" y1="280.10" x2="1426.00" y2="280.10" stroke="#0072BD" stroke-width="6" />
<text x="1437.00" y="301.60" font-size="51" fill="#000" text-anchor="start" >BSMC</text>
</g>
<g id="sub1">
<line x1="394.60" y1="1145.30" x2="394.60" y2="1764.30" stroke="#dcdcdc" stroke-width="1.6" />
<line x1="663.20" y1="1145.30" x2="663.20" y2="1764.30" stroke="#dcdcdc" stroke-width="1.6" />
<line x1="127.40" y1="1276.60" x2="720.00" y2="1276.60" stroke="#dcdcdc" stroke-width="1.6" />
<line x1="127.40" y1="1439.70" x2="720.00" y2="1439.70" stroke="#dcdcdc" stroke-width="1.6" />
<line x1="127.40" y1="1603.00" x2="720.00" y2="1603.00" stroke="#dcdcdc" stroke-width="1.6" />
<line x1="127.40" y1="1145.30" x2="127.40" y2="1765.10" stroke="#262626" stroke-width="1.7" />
<line x1="126.60" y1="1764.30" x2="720.00" y2="1764.30" stroke="#262626" stroke-width="1.7" />
<line x1="394.60" y1="1764.30" x2="394.60" y2="1757.80" stroke="#262626" stroke-width="1.7" />
<line x1="663.20" y1="1764.30" x2="663.20" y2="1757.80" stroke="#262626" stroke-width="1.7" />
<line x1="127.40" y1="1276.60" x2="133.90" y2="1276.60" stroke="#262626" stroke-width="1.7" />
<line x1="127.40" y1="1439.70" x2="133.90" y2="1439.70" stroke="#262626" stroke-width="1.7" />
<line x1="127.40" y1="1603.00" x2="133.90" y2="1603.00" stroke="#262626" stroke-width="1.7" />
<clipPath id="c1"><rect x="125.4" y="1145.3" width="594.6" height="619.6"/></clipPath>
<g clip-path="url(#c1)">
<polyline points="127.0,1439.7 721.0,1439.7" fill="none" stroke="#77AC30" stroke-width="9" stroke-linejoin="round" stroke-linecap="butt" stroke-opacity="0.45"/>
<polyline points="127.0,1439.7 721.0,1439.7" fill="none" stroke="#77AC30" stroke-width="5.4" stroke-linejoin="round" stroke-linecap="butt" />
<polyline points="126.5,1440.5 130.0,1433.0 134.0,1425.0 138.0,1421.0 142.0,1419.6 146.0,1419.1 149.5,1420.2 153.0,1424.5 157.0,1431.5 161.0,1438.5 165.0,1444.0 169.0,1447.0 172.8,1447.9 177.0,1446.5 181.0,1443.5 185.0,1440.5 189.0,1438.2 193.6,1437.3 198.0,1437.9 203.0,1439.2 210.0,1439.9 230.0,1439.7 721.0,1439.7" fill="none" stroke="#0072BD" stroke-width="3.1" stroke-linejoin="round" stroke-linecap="butt" />
<polyline points="123.5,1782.3 126.0,1764.3 134.5,1700.3 143.5,1600.3 153.0,1500.3 157.6,1440.0 160.3,1409.2 163.1,1378.8 165.8,1349.1 168.5,1320.6 171.3,1293.6 174.0,1268.5 176.8,1245.5 179.5,1224.9 182.2,1207.1 185.0,1192.1 187.7,1180.3 190.4,1171.8 193.2,1166.6 195.9,1164.9 198.9,1166.6 202.0,1171.8 205.0,1180.3 208.1,1192.1 211.1,1207.1 214.2,1224.9 217.2,1245.5 220.2,1268.5 223.3,1293.6 226.3,1320.6 229.4,1349.1 232.4,1378.8 235.5,1409.2 238.5,1440.0 241.2,1461.2 243.9,1482.1 246.7,1502.5 249.4,1522.1 252.1,1540.7 254.8,1558.0 257.6,1573.9 260.3,1588.0 263.0,1600.3 265.7,1610.6 268.4,1618.7 271.2,1624.6 273.9,1628.1 276.6,1629.3 279.3,1628.1 282.0,1624.6 284.7,1618.7 287.4,1610.6 290.1,1600.3 292.8,1588.0 295.5,1573.9 298.1,1558.0 300.8,1540.7 303.5,1522.1 306.2,1502.5 308.9,1482.1 311.6,1461.2 314.3,1440.0 316.8,1424.9 319.2,1410.0 321.7,1395.4 324.1,1381.5 326.6,1368.2 329.0,1355.9 331.5,1344.6 333.9,1334.5 336.4,1325.8 338.8,1318.5 341.2,1312.7 343.7,1308.5 346.2,1305.9 348.6,1305.1 351.2,1305.9 353.8,1308.5 356.3,1312.7 358.9,1318.5 361.5,1325.8 364.1,1334.5 366.6,1344.6 369.2,1355.9 371.8,1368.2 374.4,1381.5 377.0,1395.4 379.5,1410.0 382.1,1424.9 384.7,1440.0 387.0,1449.7 389.2,1459.3 391.5,1468.7 393.8,1477.7 396.0,1486.2 398.3,1494.2 400.5,1501.4 402.8,1507.9 405.1,1513.6 407.3,1518.3 409.6,1522.0 411.9,1524.7 414.1,1526.4 416.4,1526.9 418.7,1526.4 420.9,1524.7 423.2,1522.0 425.5,1518.3 427.8,1513.6 430.0,1507.9 432.3,1501.4 434.6,1494.2 436.8,1486.2 439.1,1477.7 441.4,1468.7 443.7,1459.3 445.9,1449.7 448.2,1440.0 450.1,1433.4 452.1,1426.9 454.0,1420.6 455.9,1414.5 457.9,1408.8 459.8,1403.4 461.8,1398.5 463.7,1394.1 465.6,1390.3 467.6,1387.1 469.5,1384.6 471.4,1382.8 473.4,1381.7 475.3,1381.3 477.4,1381.7 479.4,1382.8 481.5,1384.6 483.5,1387.1 485.6,1390.3 487.6,1394.1 489.7,1398.5 491.8,1403.4 493.8,1408.8 495.9,1414.5 497.9,1420.6 500.0,1426.9 502.0,1433.4 504.1,1440.0 505.8,1443.8 507.6,1447.5 509.3,1451.1 511.0,1454.6 512.7,1457.9 514.5,1461.0 516.2,1463.8 517.9,1466.3 519.7,1468.5 521.4,1470.4 523.1,1471.8 524.8,1472.9 526.6,1473.5 528.3,1473.7 530.0,1473.5 531.8,1472.9 533.5,1471.8 535.3,1470.4 537.0,1468.5 538.8,1466.3 540.5,1463.8 542.3,1461.0 544.0,1457.9 545.8,1454.6 547.5,1451.1 549.3,1447.5 551.0,1443.8 552.8,1440.0 554.4,1437.5 556.0,1435.1 557.6,1432.8 559.2,1430.5 560.8,1428.3 562.4,1426.3 564.0,1424.5 565.7,1422.9 567.3,1421.5 568.9,1420.3 570.5,1419.3 572.1,1418.6 573.7,1418.2 575.3,1418.1 576.9,1418.2 578.4,1418.6 580.0,1419.3 581.6,1420.3 583.2,1421.5 584.7,1422.9 586.3,1424.5 587.9,1426.3 589.4,1428.3 591.0,1430.5 592.6,1432.8 594.2,1435.1 595.7,1437.5 597.3,1440.0 598.7,1441.1 600.0,1442.2 601.4,1443.3 602.8,1444.3 604.1,1445.3 605.5,1446.2 606.8,1447.0 608.2,1447.7 609.6,1448.4 610.9,1448.9 612.3,1449.3 613.7,1449.7 615.0,1449.8 616.4,1449.9 617.7,1449.8 618.9,1449.7 620.2,1449.3 621.5,1448.9 622.8,1448.4 624.0,1447.7 625.3,1447.0 626.6,1446.2 627.8,1445.3 629.1,1444.3 630.4,1443.3 631.7,1442.2 632.9,1441.1 634.2,1440.0 635.4,1439.5 636.5,1439.0 637.6,1438.4 638.8,1438.0 640.0,1437.5 641.1,1437.1 642.2,1436.7 643.4,1436.3 644.5,1436.0 645.7,1435.8 646.9,1435.6 648.0,1435.4 649.1,1435.3 650.3,1435.3 651.3,1435.3 652.4,1435.4 653.4,1435.6 654.5,1435.8 655.5,1436.0 656.6,1436.3 657.6,1436.7 658.7,1437.1 659.8,1437.5 660.8,1438.0 661.9,1438.4 662.9,1439.0 664.0,1439.5 665.0,1440.0 665.8,1440.2 666.6,1440.4 667.4,1440.6 668.1,1440.7 668.9,1440.9 669.7,1441.1 670.5,1441.2 671.3,1441.3 672.1,1441.4 672.9,1441.5 673.6,1441.6 674.4,1441.7 675.2,1441.7 676.0,1441.7 676.9,1441.7 677.7,1441.7 678.6,1441.6 679.4,1441.5 680.3,1441.4 681.1,1441.3 682.0,1441.2 682.9,1441.1 683.7,1440.9 684.6,1440.7 685.4,1440.6 686.3,1440.4 687.1,1440.2 688.0,1440.0 700.0,1439.5 721.0,1439.8" fill="none" stroke="#FF1DA8" stroke-width="3.4" stroke-linejoin="round" stroke-linecap="butt" />
<polyline points="123.7,1781.7 126.2,1763.7 134.7,1699.7 143.7,1599.7 153.2,1499.7 157.8,1439.4 160.5,1408.6 163.3,1378.2 166.0,1348.5 168.7,1320.0 171.5,1293.0 174.2,1267.9 176.9,1244.9 179.7,1224.3 182.4,1206.5 185.2,1191.5 187.9,1179.7 190.6,1171.2 193.4,1166.0 196.1,1164.3 199.1,1166.0 202.2,1171.2 205.2,1179.7 208.3,1191.5 211.3,1206.5 214.4,1224.3 217.4,1244.9 220.4,1267.9 223.5,1293.0 226.5,1320.0 229.6,1348.5 232.6,1378.2 235.7,1408.6 238.7,1439.4 241.4,1460.6 244.1,1481.5 246.9,1501.9 249.6,1521.5 252.3,1540.1 255.0,1557.4 257.8,1573.3 260.5,1587.4 263.2,1599.7 265.9,1610.0 268.6,1618.1 271.4,1624.0 274.1,1627.5 276.8,1628.7 279.5,1627.5 282.2,1624.0 284.9,1618.1 287.6,1610.0 290.3,1599.7 293.0,1587.4 295.7,1573.3 298.3,1557.4 301.0,1540.1 303.7,1521.5 306.4,1501.9 309.1,1481.5 311.8,1460.6 314.5,1439.4 316.9,1424.3 319.4,1409.4 321.9,1394.8 324.3,1380.9 326.8,1367.6 329.2,1355.3 331.7,1344.0 334.1,1333.9 336.6,1325.2 339.0,1317.9 341.4,1312.1 343.9,1307.9 346.4,1305.3 348.8,1304.5 351.4,1305.3 354.0,1307.9 356.5,1312.1 359.1,1317.9 361.7,1325.2 364.3,1333.9 366.8,1344.0 369.4,1355.3 372.0,1367.6 374.6,1380.9 377.2,1394.8 379.7,1409.4 382.3,1424.3 384.9,1439.4 387.2,1449.1 389.4,1458.7 391.7,1468.1 394.0,1477.1 396.2,1485.6 398.5,1493.6 400.7,1500.8 403.0,1507.3 405.3,1513.0 407.5,1517.7 409.8,1521.4 412.1,1524.1 414.3,1525.8 416.6,1526.3 418.9,1525.8 421.1,1524.1 423.4,1521.4 425.7,1517.7 428.0,1513.0 430.2,1507.3 432.5,1500.8 434.8,1493.6 437.0,1485.6 439.3,1477.1 441.6,1468.1 443.9,1458.7 446.1,1449.1 448.4,1439.4 450.3,1432.8 452.3,1426.3 454.2,1420.0 456.1,1413.9 458.1,1408.2 460.0,1402.8 461.9,1397.9 463.9,1393.5 465.8,1389.7 467.8,1386.5 469.7,1384.0 471.6,1382.2 473.6,1381.1 475.5,1380.7 477.6,1381.1 479.6,1382.2 481.7,1384.0 483.7,1386.5 485.8,1389.7 487.8,1393.5 489.9,1397.9 492.0,1402.8 494.0,1408.2 496.1,1413.9 498.1,1420.0 500.2,1426.3 502.2,1432.8 504.3,1439.4 506.0,1443.2 507.8,1446.9 509.5,1450.5 511.2,1454.0 512.9,1457.3 514.7,1460.4 516.4,1463.2 518.1,1465.7 519.9,1467.9 521.6,1469.8 523.3,1471.2 525.0,1472.3 526.8,1472.9 528.5,1473.1 530.2,1472.9 532.0,1472.3 533.8,1471.2 535.5,1469.8 537.2,1467.9 539.0,1465.7 540.8,1463.2 542.5,1460.4 544.2,1457.3 546.0,1454.0 547.8,1450.5 549.5,1446.9 551.2,1443.2 553.0,1439.4 554.6,1436.9 556.2,1434.5 557.8,1432.2 559.4,1429.9 561.0,1427.7 562.6,1425.7 564.2,1423.9 565.9,1422.3 567.5,1420.9 569.1,1419.7 570.7,1418.7 572.3,1418.0 573.9,1417.6 575.5,1417.5 577.1,1417.6 578.6,1418.0 580.2,1418.7 581.8,1419.7 583.4,1420.9 584.9,1422.3 586.5,1423.9 588.1,1425.7 589.6,1427.7 591.2,1429.9 592.8,1432.2 594.4,1434.5 595.9,1436.9 597.5,1439.4 598.9,1440.5 600.2,1441.6 601.6,1442.7 603.0,1443.7 604.3,1444.7 605.7,1445.6 607.0,1446.4 608.4,1447.1 609.8,1447.8 611.1,1448.3 612.5,1448.7 613.9,1449.1 615.2,1449.2 616.6,1449.3 617.9,1449.2 619.1,1449.1 620.4,1448.7 621.7,1448.3 623.0,1447.8 624.2,1447.1 625.5,1446.4 626.8,1445.6 628.0,1444.7 629.3,1443.7 630.6,1442.7 631.9,1441.6 633.1,1440.5 634.4,1439.4 635.6,1438.9 636.7,1438.4 637.9,1437.8 639.0,1437.4 640.2,1436.9 641.3,1436.5 642.5,1436.1 643.6,1435.7 644.8,1435.4 645.9,1435.2 647.1,1435.0 648.2,1434.8 649.4,1434.7 650.5,1434.7 651.5,1434.7 652.6,1434.8 653.6,1435.0 654.7,1435.2 655.8,1435.4 656.8,1435.7 657.9,1436.1 658.9,1436.5 660.0,1436.9 661.0,1437.4 662.1,1437.8 663.1,1438.4 664.2,1438.9 665.2,1439.4 666.0,1439.6 666.8,1439.8 667.6,1440.0 668.3,1440.1 669.1,1440.3 669.9,1440.5 670.7,1440.6 671.5,1440.7 672.3,1440.8 673.1,1440.9 673.8,1441.0 674.6,1441.1 675.4,1441.1 676.2,1441.1 677.1,1441.1 677.9,1441.1 678.8,1441.0 679.6,1440.9 680.5,1440.8 681.3,1440.7 682.2,1440.6 683.1,1440.5 683.9,1440.3 684.8,1440.1 685.6,1440.0 686.5,1439.8 687.3,1439.6 688.2,1439.4 700.2,1438.9 721.2,1439.2" fill="none" stroke="#7E2F8E" stroke-width="2.0" stroke-linejoin="round" stroke-linecap="butt" />
</g>
<text x="127.40" y="1833.00" font-size="48" fill="#262626" text-anchor="middle" >0</text>
<text x="394.60" y="1833.00" font-size="48" fill="#262626" text-anchor="middle" >0.05</text>
<text x="663.20" y="1833.00" font-size="48" fill="#262626" text-anchor="middle" >0.1</text>
<text x="108.40" y="1295.80" font-size="48" fill="#262626" text-anchor="end" >420</text>
<text x="108.40" y="1458.90" font-size="48" fill="#262626" text-anchor="end" >400</text>
<text x="108.40" y="1622.20" font-size="48" fill="#262626" text-anchor="end" >380</text>
<text x="108.40" y="1785.40" font-size="48" fill="#262626" text-anchor="end" >360</text>
<text x="643.00" y="1716.00" font-size="50" fill="#000" text-anchor="middle" >(1)</text>
</g>
<g id="sub2">
<line x1="890.20" y1="1142.40" x2="890.20" y2="1758.80" stroke="#dcdcdc" stroke-width="1.6" />
<line x1="1016.90" y1="1142.40" x2="1016.90" y2="1758.80" stroke="#dcdcdc" stroke-width="1.6" />
<line x1="1141.90" y1="1142.40" x2="1141.90" y2="1758.80" stroke="#dcdcdc" stroke-width="1.6" />
<line x1="1268.50" y1="1142.40" x2="1268.50" y2="1758.80" stroke="#dcdcdc" stroke-width="1.6" />
<line x1="822.90" y1="1157.20" x2="1386.30" y2="1157.20" stroke="#dcdcdc" stroke-width="1.6" />
<line x1="822.90" y1="1246.20" x2="1386.30" y2="1246.20" stroke="#dcdcdc" stroke-width="1.6" />
<line x1="822.90" y1="1331.70" x2="1386.30" y2="1331.70" stroke="#dcdcdc" stroke-width="1.6" />
<line x1="822.90" y1="1418.20" x2="1386.30" y2="1418.20" stroke="#dcdcdc" stroke-width="1.6" />
<line x1="822.90" y1="1505.40" x2="1386.30" y2="1505.40" stroke="#dcdcdc" stroke-width="1.6" />
<line x1="822.90" y1="1593.50" x2="1386.30" y2="1593.50" stroke="#dcdcdc" stroke-width="1.6" />
<line x1="822.90" y1="1679.50" x2="1386.30" y2="1679.50" stroke="#dcdcdc" stroke-width="1.6" />
<line x1="822.90" y1="1142.40" x2="822.90" y2="1759.60" stroke="#262626" stroke-width="1.7" />
<line x1="822.10" y1="1758.80" x2="1386.30" y2="1758.80" stroke="#262626" stroke-width="1.7" />
<line x1="890.20" y1="1758.80" x2="890.20" y2="1752.30" stroke="#262626" stroke-width="1.7" />
<line x1="1016.90" y1="1758.80" x2="1016.90" y2="1752.30" stroke="#262626" stroke-width="1.7" />
<line x1="1141.90" y1="1758.80" x2="1141.90" y2="1752.30" stroke="#262626" stroke-width="1.7" />
<line x1="1268.50" y1="1758.80" x2="1268.50" y2="1752.30" stroke="#262626" stroke-width="1.7" />
<line x1="822.90" y1="1157.20" x2="829.40" y2="1157.20" stroke="#262626" stroke-width="1.7" />
<line x1="822.90" y1="1246.20" x2="829.40" y2="1246.20" stroke="#262626" stroke-width="1.7" />
<line x1="822.90" y1="1331.70" x2="829.40" y2="1331.70" stroke="#262626" stroke-width="1.7" />
<line x1="822.90" y1="1418.20" x2="829.40" y2="1418.20" stroke="#262626" stroke-width="1.7" />
<line x1="822.90" y1="1505.40" x2="829.40" y2="1505.40" stroke="#262626" stroke-width="1.7" />
<line x1="822.90" y1="1593.50" x2="829.40" y2="1593.50" stroke="#262626" stroke-width="1.7" />
<line x1="822.90" y1="1679.50" x2="829.40" y2="1679.50" stroke="#262626" stroke-width="1.7" />
<clipPath id="c2"><rect x="820.9" y="1142.4" width="565.4" height="616.9999999999999"/></clipPath>
<g clip-path="url(#c2)">
<polyline points="822.0,1331.7 1387.0,1331.7" fill="none" stroke="#77AC30" stroke-width="8.5" stroke-linejoin="round" stroke-linecap="butt" stroke-opacity="0.45"/>
<polyline points="822.0,1331.7 1387.0,1331.7" fill="none" stroke="#77AC30" stroke-width="5" stroke-linejoin="round" stroke-linecap="butt" />
<polyline points="822.6,1332.3 852.8,1332.3 853.1,1290.0 854.1,1290.0 853.9,1324.9 854.9,1324.9 854.7,1290.0 855.7,1290.0 855.5,1330.0 856.5,1330.0 856.8,1290.0 857.3,1312.1 858.2,1288.8 858.7,1328.2 859.7,1328.2 859.6,1288.2 860.6,1288.2 860.5,1331.1 861.5,1331.1 861.5,1287.6 862.5,1287.6 862.9,1334.0 863.8,1358.8 865.9,1409.1 866.9,1409.1 866.8,1292.0 867.8,1292.0 867.7,1319.4 868.7,1319.4 868.7,1292.0 869.7,1292.0 869.6,1328.2 870.6,1328.2 871.1,1292.0 871.4,1266.5 872.4,1266.5 872.4,1316.0 873.4,1316.0 873.4,1266.5 874.4,1266.5 874.9,1332.6 874.9,1392.4 875.9,1392.4 877.0,1287.0 878.0,1287.0 877.8,1332.1 878.8,1332.1 878.6,1287.0 879.6,1287.0 879.5,1331.1 880.5,1331.1 880.3,1287.0 881.3,1287.0 881.1,1330.1 882.1,1330.1 881.9,1287.0 882.9,1287.0 882.5,1358.8 883.5,1358.8 883.7,1290.3 884.7,1290.3 884.5,1330.4 885.5,1330.4 885.4,1288.9 886.4,1288.9 886.2,1331.8 887.2,1331.8 887.0,1287.5 888.0,1287.5 887.9,1333.3 888.9,1333.3 888.7,1286.1 889.7,1286.1 889.6,1334.7 890.6,1334.7 890.9,1284.7 891.0,1209.7 892.0,1209.7 892.0,1271.3 893.0,1271.3 893.2,1209.3 894.2,1209.3 895.1,1271.3 896.6,1329.6 896.8,1431.0 897.8,1431.0 898.8,1242.1 899.4,1183.5 900.4,1183.5 900.5,1256.7 901.5,1256.7 901.5,1183.0 902.5,1183.0 903.4,1242.1 904.9,1300.5 906.4,1290.3 906.7,1324.8 907.7,1324.8 907.5,1290.3 908.5,1290.3 908.3,1329.8 909.3,1329.8 909.1,1290.3 910.1,1290.3 910.2,1322.3 911.2,1347.1 912.2,1332.3 958.6,1332.3 959.3,1164.8 960.3,1164.8 961.0,1198.4 962.0,1198.4 962.5,1164.8 963.5,1164.8 964.4,1227.5 965.9,1300.5 966.8,1344.2 967.8,1344.2 968.0,1296.1 969.0,1296.1 969.2,1322.3 970.2,1322.3 970.3,1296.1 971.3,1296.1 972.4,1332.3 985.6,1332.3 986.6,1344.2 987.6,1167.0 988.6,1167.0 989.3,1198.4 990.3,1198.4 990.9,1166.3 991.9,1166.3 992.9,1227.5 994.3,1285.9 995.3,1344.2 996.3,1344.2 996.3,1299.0 997.3,1299.0 997.3,1326.7 998.3,1326.7 998.3,1299.0 999.3,1299.0 1000.2,1332.3 1009.6,1332.3 1010.0,1332.3 1062.5,1332.3 1063.1,1326.7 1063.4,1372.2 1064.4,1372.2 1064.2,1326.7 1065.2,1326.7 1065.1,1369.9 1066.1,1369.9 1065.9,1326.7 1066.9,1326.7 1067.2,1367.6 1064.9,1448.5 1065.9,1448.5 1067.6,1300.5 1068.6,1269.8 1069.6,1269.8 1069.6,1315.1 1070.6,1315.1 1070.5,1271.3 1071.5,1271.3 1071.5,1355.9 1072.5,1355.9 1072.2,1327.0 1073.2,1327.0 1073.0,1355.9 1074.0,1355.9 1073.8,1327.0 1074.8,1327.0 1074.6,1355.9 1075.6,1355.9 1075.9,1327.0 1077.1,1332.3 1089.5,1332.3 1090.2,1373.4 1091.0,1388.0 1091.7,1233.4 1092.1,1173.3 1093.1,1173.3 1093.2,1242.1 1094.2,1242.1 1094.6,1173.3 1095.8,1173.8 1096.4,1242.1 1096.6,1435.4 1097.6,1435.4 1098.4,1300.5 1099.3,1277.9 1099.9,1329.6 1100.9,1329.6 1101.3,1277.1 1102.5,1285.9 1103.4,1351.5 1104.2,1332.3 1105.1,1351.5 1106.3,1332.3 1121.6,1332.3 1122.6,1329.6 1123.5,1350.1 1124.5,1354.4 1124.7,1306.3 1125.7,1306.3 1125.6,1344.2 1126.6,1344.2 1126.5,1307.8 1127.5,1307.8 1128.2,1344.2 1129.0,1328.2 1129.9,1342.8 1131.1,1332.3 1160.3,1332.3 1160.5,1366.1 1161.5,1366.1 1162.4,1227.5 1162.7,1148.8 1163.7,1148.8 1163.7,1212.9 1164.7,1212.9 1164.6,1149.0 1165.6,1149.0 1166.1,1183.8 1166.8,1227.5 1168.3,1285.9 1168.5,1425.2 1169.5,1425.2 1170.5,1271.3 1170.7,1221.0 1171.7,1221.0 1171.7,1271.3 1172.7,1271.3 1172.6,1221.4 1173.6,1221.4 1174.3,1256.7 1174.8,1285.9 1176.3,1322.3 1177.2,1315.1 1178.1,1341.3 1179.2,1322.3 1180.7,1344.2 1181.8,1322.3 1182.9,1315.1 1183.1,1344.2 1184.1,1344.2 1184.3,1293.2 1185.8,1300.5 1187.2,1358.8 1187.8,1483.5 1188.8,1483.5 1188.9,1253.8 1189.9,1253.8 1190.1,1293.2 1191.1,1293.2 1191.0,1254.5 1192.0,1254.5 1192.3,1300.5 1192.6,1363.2 1193.6,1363.2 1193.3,1334.0 1194.3,1334.0 1194.0,1363.2 1195.0,1363.2 1196.0,1332.3 1199.6,1332.3 1200.0,1332.0 1237.2,1332.0 1238.2,1305.0 1239.4,1328.4 1240.6,1304.3 1242.3,1331.3 1243.2,1478.2 1244.2,1478.2 1247.4,1360.5 1248.4,1315.2 1249.4,1315.2 1249.8,1364.8 1250.8,1364.8 1251.3,1321.1 1252.5,1345.9 1253.7,1321.1 1254.7,1332.0 1386.7,1332.0" fill="none" stroke="#0072BD" stroke-width="4.0" stroke-linejoin="round" stroke-linecap="butt" />
<polyline points="822.6,1332.3 855.0,1332.3 857.2,1351.5 861.6,1379.2 863.8,1373.4 865.2,1344.2 867.4,1314.3 869.6,1334.0 871.8,1336.9 874.7,1335.5 877.6,1344.2 879.8,1355.9 882.7,1358.8 884.9,1344.2 886.4,1341.3 888.6,1351.5 890.8,1364.7 892.9,1344.2 894.4,1271.3 895.9,1242.8 897.6,1264.0 899.5,1344.2 901.1,1431.1 902.3,1431.1 903.9,1344.2 905.5,1299.7 906.7,1299.7 908.3,1344.2 911.0,1461.7 912.2,1461.7 913.9,1355.2 915.1,1355.2 917.1,1406.3 918.3,1406.3 920.7,1376.3 922.1,1374.9 924.3,1382.2 925.8,1379.2 957.1,1335.5 959.3,1334.0 960.2,1429.6 961.4,1429.6 963.1,1240.7 964.3,1240.7 970.4,1442.7 971.6,1442.7 973.2,1313.6 974.6,1313.6 976.8,1354.4 980.5,1339.9 982.7,1350.1 985.6,1344.2 987.8,1350.1 988.6,1401.9 989.8,1401.9 992.1,1278.6 995.1,1300.5 997.4,1444.2 998.6,1444.2 1001.0,1334.7 1002.2,1334.7 1003.9,1386.5 1005.1,1386.5 1007.5,1355.9 1011.1,1358.8 1015.8,1348.6 1024.6,1336.9 1033.3,1323.8 1042.1,1312.1 1052.3,1301.9 1062.5,1296.1 1064.7,1271.3 1066.2,1242.1 1067.9,1236.3 1069.8,1249.4 1071.3,1261.1 1074.2,1261.1 1077.1,1266.9 1081.5,1280.0 1085.9,1283.0 1089.5,1287.3 1091.7,1285.9 1092.4,1315.1 1093.9,1347.1 1095.3,1329.6 1097.2,1304.8 1099.0,1322.3 1100.4,1339.9 1101.9,1329.6 1104.1,1323.8 1112.1,1321.6 1120.9,1319.4 1123.1,1312.1 1124.5,1309.2 1126.0,1315.1 1128.2,1318.7 1141.3,1317.2 1155.9,1315.1 1161.7,1314.3 1167.7,1404.8 1168.9,1404.8 1169.9,1299.0 1171.1,1299.0 1175.7,1407.7 1176.9,1407.7 1179.9,1341.3 1182.1,1344.2 1182.3,1431.1 1183.5,1431.1 1185.9,1290.3 1187.1,1290.3 1190.9,1341.3 1193.1,1318.0 1196.0,1322.3 1201.1,1318.0 1200.0,1319.6 1208.8,1315.2 1219.0,1311.6 1229.2,1312.3 1236.5,1310.9 1238.7,1309.4 1240.1,1324.0 1241.4,1367.8 1242.6,1367.8 1243.0,1331.3 1244.5,1272.9 1246.4,1248.1 1248.1,1272.9 1249.6,1313.8 1251.1,1312.3 1252.5,1294.8 1254.3,1287.5 1256.2,1299.2 1261.3,1302.1 1268.6,1310.9 1278.8,1319.6 1290.4,1326.9 1300.7,1329.8 1310.9,1330.6 1324.0,1331.3 1345.9,1332.0 1386.7,1332.7" fill="none" stroke="#FF1DA8" stroke-width="3.1" stroke-linejoin="round" stroke-linecap="butt" />
<polyline points="822.6,1331.8 825.8,1328.2 828.0,1327.5 830.2,1330.4 837.5,1331.8 853.6,1332.3 855.7,1334.0 857.6,1373.4 859.4,1394.6 862.9,1439.8 864.7,1439.8 866.0,1394.6 866.7,1358.8 868.1,1328.2 870.3,1347.1 872.5,1358.8 875.4,1355.9 878.4,1358.8 880.5,1376.3 881.8,1401.9 883.6,1401.9 886.4,1364.7 888.6,1373.4 890.6,1552.1 892.4,1552.1 895.1,1264.0 897.3,1265.5 900.4,1757.8 902.2,1757.8 905.5,1344.2 907.3,1344.2 909.5,1528.8 911.3,1528.8 914.7,1401.9 916.5,1401.9 918.3,1482.1 920.1,1482.1 921.9,1431.8 923.7,1431.8 926.5,1458.8 928.7,1441.3 931.6,1447.1 958.6,1429.6 959.1,1631.6 960.9,1631.6 962.8,1268.4 964.6,1268.4 969.4,1622.2 971.2,1622.2 975.9,1354.4 977.7,1354.4 979.6,1546.3 981.4,1546.3 983.9,1406.3 985.7,1406.3 988.6,1741.8 990.4,1741.8 992.7,1401.9 994.5,1401.9 997.8,1610.5 999.6,1610.5 1002.2,1443.5 1004.0,1443.5 1006.6,1565.3 1008.4,1565.3 1010.9,1464.6 1012.7,1464.6 1014.6,1533.2 1016.4,1533.2 1018.6,1484.3 1020.4,1484.3 1022.4,1511.3 1024.6,1492.3 1027.5,1499.6 1030.4,1493.8 1061.1,1470.4 1062.5,1461.7 1064.0,1480.7 1065.3,1374.9 1067.1,1374.9 1068.4,1409.2 1070.5,1431.1 1073.5,1398.2 1075.6,1412.8 1078.6,1407.0 1085.9,1401.9 1090.2,1400.4 1091.0,1438.4 1090.8,1517.9 1092.6,1517.9 1093.9,1467.5 1096.1,1409.2 1096.6,1336.2 1098.4,1336.2 1099.0,1438.4 1100.3,1508.4 1102.1,1508.4 1103.4,1452.9 1104.7,1388.0 1106.5,1388.0 1107.7,1423.8 1109.0,1460.2 1110.8,1460.2 1112.8,1416.5 1115.0,1431.1 1117.2,1441.3 1119.4,1428.1 1122.3,1428.1 1123.8,1436.9 1125.2,1405.5 1127.4,1423.8 1128.9,1435.4 1131.1,1419.4 1134.0,1425.2 1138.4,1422.3 1148.6,1413.6 1160.3,1406.3 1161.0,1452.9 1160.8,1520.8 1162.6,1520.8 1163.9,1438.4 1164.5,1393.9 1166.3,1393.9 1166.8,1452.9 1168.1,1560.9 1169.9,1560.9 1171.2,1467.5 1172.5,1403.3 1174.3,1403.3 1174.8,1452.9 1176.1,1517.1 1177.9,1517.1 1179.2,1467.5 1179.8,1434.0 1181.6,1434.0 1182.1,1496.7 1182.7,1576.9 1184.5,1576.9 1185.8,1467.5 1185.6,1388.0 1187.4,1388.0 1188.7,1423.8 1190.0,1455.1 1191.8,1455.1 1193.1,1411.4 1195.3,1422.3 1197.5,1431.8 1199.6,1422.3 1235.0,1395.7 1238.2,1395.7 1237.6,1442.1 1239.4,1442.1 1244.5,1353.2 1246.0,1345.9 1247.4,1357.5 1249.6,1360.5 1251.8,1354.6 1258.4,1350.3 1268.6,1343.7 1278.8,1338.6 1290.4,1334.9 1302.1,1333.5 1316.7,1332.7 1342.2,1332.5 1343.7,1326.9 1345.1,1335.7 1347.3,1332.0 1360.5,1332.0 1367.8,1331.3 1375.1,1333.5 1386.7,1332.7" fill="none" stroke="#7E2F8E" stroke-width="3.3" stroke-linejoin="round" stroke-linecap="butt" />
</g>
<text x="890.20" y="1828.60" font-size="48" fill="#262626" text-anchor="middle" >10.4</text>
<text x="1016.90" y="1828.60" font-size="48" fill="#262626" text-anchor="middle" >10.6</text>
<text x="1141.90" y="1828.60" font-size="48" fill="#262626" text-anchor="middle" >10.8</text>
<text x="1268.50" y="1828.60" font-size="48" fill="#262626" text-anchor="middle" >11</text>
<text x="804.40" y="1176.40" font-size="48" fill="#262626" text-anchor="end" >404</text>
<text x="804.40" y="1265.40" font-size="48" fill="#262626" text-anchor="end" >402</text>
<text x="804.40" y="1350.90" font-size="48" fill="#262626" text-anchor="end" >400</text>
<text x="804.40" y="1437.40" font-size="48" fill="#262626" text-anchor="end" >398</text>
<text x="804.40" y="1524.60" font-size="48" fill="#262626" text-anchor="end" >396</text>
<text x="804.40" y="1612.70" font-size="48" fill="#262626" text-anchor="end" >394</text>
<text x="804.40" y="1698.70" font-size="48" fill="#262626" text-anchor="end" >392</text>
<text x="1311.00" y="1715.00" font-size="50" fill="#000" text-anchor="middle" >(2)</text>
</g>
<g id="sub3">
<line x1="1591.00" y1="1151.70" x2="1591.00" y2="1754.50" stroke="#dcdcdc" stroke-width="1.6" />
<line x1="1713.90" y1="1151.70" x2="1713.90" y2="1754.50" stroke="#dcdcdc" stroke-width="1.6" />
<line x1="1835.00" y1="1151.70" x2="1835.00" y2="1754.50" stroke="#dcdcdc" stroke-width="1.6" />
<line x1="1958.30" y1="1151.70" x2="1958.30" y2="1754.50" stroke="#dcdcdc" stroke-width="1.6" />
<line x1="2079.00" y1="1151.70" x2="2079.00" y2="1754.50" stroke="#dcdcdc" stroke-width="1.6" />
<line x1="1529.60" y1="1252.50" x2="2081.20" y2="1252.50" stroke="#dcdcdc" stroke-width="1.6" />
<line x1="1529.60" y1="1376.20" x2="2081.20" y2="1376.20" stroke="#dcdcdc" stroke-width="1.6" />
<line x1="1529.60" y1="1499.10" x2="2081.20" y2="1499.10" stroke="#dcdcdc" stroke-width="1.6" />
<line x1="1529.60" y1="1624.50" x2="2081.20" y2="1624.50" stroke="#dcdcdc" stroke-width="1.6" />
<line x1="1529.60" y1="1747.30" x2="2081.20" y2="1747.30" stroke="#dcdcdc" stroke-width="1.6" />
<line x1="1529.60" y1="1151.70" x2="1529.60" y2="1755.30" stroke="#262626" stroke-width="1.7" />
<line x1="1528.80" y1="1754.50" x2="2081.20" y2="1754.50" stroke="#262626" stroke-width="1.7" />
<line x1="1591.00" y1="1754.50" x2="1591.00" y2="1748.00" stroke="#262626" stroke-width="1.7" />
<line x1="1713.90" y1="1754.50" x2="1713.90" y2="1748.00" stroke="#262626" stroke-width="1.7" />
<line x1="1835.00" y1="1754.50" x2="1835.00" y2="1748.00" stroke="#262626" stroke-width="1.7" />
<line x1="1958.30" y1="1754.50" x2="1958.30" y2="1748.00" stroke="#262626" stroke-width="1.7" />
<line x1="2079.00" y1="1754.50" x2="2079.00" y2="1748.00" stroke="#262626" stroke-width="1.7" />
<line x1="1529.60" y1="1252.50" x2="1536.10" y2="1252.50" stroke="#262626" stroke-width="1.7" />
<line x1="1529.60" y1="1376.20" x2="1536.10" y2="1376.20" stroke="#262626" stroke-width="1.7" />
<line x1="1529.60" y1="1499.10" x2="1536.10" y2="1499.10" stroke="#262626" stroke-width="1.7" />
<line x1="1529.60" y1="1624.50" x2="1536.10" y2="1624.50" stroke="#262626" stroke-width="1.7" />
<line x1="1529.60" y1="1747.30" x2="1536.10" y2="1747.30" stroke="#262626" stroke-width="1.7" />
<clipPath id="c3"><rect x="1527.6" y="1151.7" width="553.5999999999999" height="603.4"/></clipPath>
<g clip-path="url(#c3)">
<polyline points="1529.0,1252.5 2082.0,1252.5" fill="none" stroke="#77AC30" stroke-width="9" stroke-linejoin="round" stroke-linecap="butt" stroke-opacity="0.45"/>
<polyline points="1529.0,1252.5 2082.0,1252.5" fill="none" stroke="#77AC30" stroke-width="5.4" stroke-linejoin="round" stroke-linecap="butt" />
<polyline points="1529.0,1248.7 1529.9,1247.2 1531.6,1244.3 1533.3,1245.2 1535.1,1250.0 1537.5,1253.1 1540.4,1254.5 1543.2,1254.9 1545.7,1254.2 1547.4,1258.2 1548.1,1266.9 1549.0,1274.6 1550.1,1281.2 1551.4,1284.8 1552.8,1285.5 1554.3,1284.4 1555.7,1281.5 1557.4,1277.9 1559.2,1273.5 1561.2,1269.3 1563.4,1265.3 1565.2,1265.3 1566.7,1269.3 1568.1,1271.7 1569.6,1272.4 1571.1,1270.9 1572.5,1267.3 1574.0,1264.0 1575.4,1261.1 1576.7,1262.6 1577.8,1268.4 1578.9,1278.6 1580.0,1293.2 1581.1,1305.6 1582.2,1315.8 1583.3,1320.6 1584.4,1319.8 1585.5,1312.9 1586.6,1299.8 1587.8,1285.9 1589.3,1271.3 1590.8,1259.6 1592.2,1250.9 1593.7,1246.0 1595.1,1244.9 1596.4,1247.4 1597.5,1253.6 1598.6,1261.1 1599.7,1269.9 1601.0,1277.1 1602.4,1283.0 1603.7,1280.4 1604.8,1269.5 1605.9,1256.7 1607.0,1242.1 1608.1,1232.5 1609.2,1227.7 1610.6,1225.9 1612.5,1227.0 1613.9,1231.2 1615.0,1238.5 1615.9,1247.6 1616.7,1258.5 1617.9,1263.7 1619.8,1262.9 1621.8,1260.2 1624.0,1255.4 1626.0,1253.1 1627.8,1253.1 1629.4,1255.1 1630.9,1259.1 1632.5,1262.9 1634.3,1266.6 1636.0,1268.4 1637.4,1268.4 1639.1,1265.5 1640.9,1259.6 1643.1,1256.2 1645.7,1255.1 1647.8,1252.2 1649.7,1247.4 1651.3,1243.2 1652.8,1239.6 1654.4,1237.4 1656.2,1236.7 1658.8,1237.6 1662.1,1240.1 1664.4,1243.4 1665.9,1247.4 1667.4,1250.7 1668.8,1253.3 1670.8,1254.7 1673.4,1255.1 1675.7,1254.9 1677.9,1254.2 1679.8,1254.5 1681.2,1256.0 1682.5,1260.4 1683.6,1267.7 1685.0,1272.6 1686.9,1275.1 1688.7,1276.6 1690.5,1277.0 1692.3,1275.7 1694.2,1272.8 1696.2,1269.1 1698.4,1264.7 1700.0,1259.6 1701.1,1253.8 1702.4,1249.2 1703.8,1246.0 1705.5,1245.2 1707.3,1247.1 1709.3,1249.1 1711.5,1251.2 1714.0,1252.7 1717.0,1253.4 1719.9,1254.3 1722.8,1255.4 1725.7,1255.1 1728.6,1253.3 1730.8,1253.4 1732.3,1255.6 1733.4,1258.5 1734.1,1262.2 1735.0,1263.7 1736.1,1262.9 1737.4,1261.1 1738.9,1258.2 1741.2,1256.0 1744.5,1254.5 1746.9,1250.9 1748.3,1245.0 1749.6,1239.6 1750.7,1234.5 1752.0,1231.7 1753.4,1231.4 1755.1,1233.2 1756.9,1237.2 1758.9,1241.0 1761.1,1244.7 1763.7,1247.8 1766.6,1250.3 1769.9,1252.0 1773.5,1252.7 1777.0,1252.9 1780.2,1252.5 1782.4,1255.3 1783.5,1261.1 1784.6,1267.3 1785.7,1273.9 1786.8,1273.9 1787.9,1267.3 1788.8,1261.5 1789.6,1256.4 1791.1,1253.5 1793.3,1252.7 1795.3,1252.5 1797.1,1252.9 1798.6,1255.1 1799.7,1259.1 1800.8,1261.5 1801.9,1262.2 1803.0,1259.7 1804.0,1253.8 1805.1,1247.3 1806.2,1240.0 1807.5,1234.8 1809.0,1231.9 1810.4,1231.0 1811.9,1232.1 1813.3,1233.6 1814.8,1235.4 1816.3,1236.1 1817.7,1235.8 1819.0,1237.2 1820.1,1240.5 1821.0,1245.8 1821.7,1253.1 1822.6,1261.1 1823.7,1269.9 1825.0,1276.1 1826.5,1279.7 1827.9,1280.4 1829.4,1278.3 1830.9,1275.3 1832.3,1271.7 1834.0,1269.5 1835.8,1268.8 1837.8,1267.7 1840.0,1266.2 1842.2,1264.4 1844.4,1262.2 1846.5,1260.6 1848.7,1259.5 1850.6,1260.2 1852.0,1262.8 1853.1,1264.8 1853.8,1266.2 1854.9,1264.4 1856.4,1259.3 1857.9,1255.8 1859.3,1254.0 1861.5,1253.1 1864.4,1253.1 1866.8,1254.0 1868.6,1255.8 1870.1,1256.4 1871.2,1255.6 1872.8,1253.8 1875.0,1250.9 1877.2,1250.0 1879.4,1251.1 1881.6,1252.0 1883.8,1252.7 1885.9,1252.9 1888.1,1252.5 1890.3,1251.3 1892.5,1249.1 1894.7,1248.2 1896.9,1248.5 1898.7,1249.6 1900.2,1251.4 1901.4,1254.5 1902.5,1258.9 1903.6,1260.0 1904.7,1257.8 1905.8,1253.8 1906.9,1248.0 1908.2,1244.0 1909.7,1241.8 1911.3,1241.1 1913.1,1241.8 1915.1,1243.2 1917.3,1245.4 1919.0,1249.1 1920.1,1254.2 1921.3,1260.4 1922.8,1267.7 1924.2,1272.8 1925.7,1275.7 1927.2,1276.4 1928.6,1275.0 1930.1,1273.2 1931.5,1271.0 1933.0,1268.8 1934.5,1266.6 1935.6,1261.5 1936.3,1253.5 1937.2,1244.0 1938.3,1233.0 1939.6,1225.7 1941.0,1222.1 1942.5,1221.7 1943.9,1224.6 1945.4,1228.6 1946.9,1233.8 1948.3,1238.9 1949.8,1244.0 1951.1,1246.9 1952.2,1247.6 1953.1,1244.7 1953.8,1238.1 1954.5,1232.3 1955.3,1227.2 1956.2,1226.8 1957.3,1231.2 1958.4,1237.8 1959.5,1246.5 1960.5,1253.8 1961.6,1259.7 1963.1,1262.9 1964.9,1263.7 1966.6,1262.9 1968.0,1260.8 1970.0,1259.1 1972.6,1258.0 1975.3,1256.9 1978.2,1255.8 1980.8,1254.5 1983.0,1253.1 1984.8,1253.8 1986.3,1256.7 1987.5,1258.6 1988.6,1259.3 1989.7,1256.0 1990.8,1248.7 1992.1,1243.8 1993.6,1241.2 1995.4,1240.1 1997.6,1240.5 1999.8,1241.8 2002.0,1244.0 2004.1,1245.6 2006.3,1246.7 2008.5,1247.4 2010.7,1247.8 2012.9,1248.7 2015.1,1250.2 2017.1,1250.2 2018.9,1248.7 2020.4,1245.8 2021.5,1241.4 2022.6,1240.0 2023.7,1241.4 2024.8,1244.7 2025.8,1249.8 2027.5,1252.7 2029.7,1253.5 2032.2,1253.5 2035.1,1252.7 2037.2,1250.2 2038.2,1245.8 2039.7,1242.9 2041.5,1241.4 2043.5,1241.4 2045.7,1242.9 2047.9,1244.7 2050.1,1246.9 2051.9,1246.5 2053.4,1243.6 2054.4,1240.7 2055.0,1237.8 2055.7,1241.4 2056.6,1251.6 2057.6,1261.5 2058.7,1271.0 2060.0,1278.3 2061.4,1283.4 2062.9,1284.5 2064.3,1281.5 2065.8,1277.5 2067.3,1272.4 2068.7,1270.2 2070.2,1271.0 2071.4,1271.7 2072.5,1272.4 2073.6,1269.9 2074.7,1264.0 2075.8,1257.1 2076.9,1249.1 2078.0,1243.2 2079.1,1239.6 2080.6,1237.2 2082.4,1236.1 2083.3,1235.6" fill="none" stroke="#0072BD" stroke-width="2.7" stroke-linejoin="round" stroke-linecap="butt" />
<polyline points="1529.0,1261.4 1531.5,1261.0 1536.5,1260.3 1540.8,1259.0 1544.4,1257.2 1547.5,1254.4 1550.1,1250.6 1553.0,1248.7 1556.3,1248.7 1559.4,1249.0 1562.3,1249.5 1564.7,1247.6 1566.5,1243.5 1568.3,1240.5 1570.2,1238.7 1572.3,1238.0 1574.9,1238.5 1577.2,1239.8 1579.1,1241.8 1580.4,1244.9 1581.1,1248.9 1581.6,1259.6 1582.0,1277.1 1582.4,1300.5 1583.0,1329.7 1583.4,1364.1 1583.4,1403.9 1583.9,1442.7 1584.8,1480.4 1586.1,1524.2 1587.7,1574.0 1589.6,1620.8 1591.8,1664.6 1593.8,1699.3 1595.5,1725.1 1597.0,1740.6 1598.2,1746.0 1599.5,1746.0 1600.9,1740.6 1602.4,1725.1 1603.8,1699.3 1605.3,1664.6 1607.0,1620.8 1608.6,1574.0 1610.2,1524.2 1611.6,1485.9 1612.7,1459.1 1614.0,1420.3 1615.5,1369.6 1616.9,1329.7 1618.0,1300.5 1619.1,1275.0 1620.2,1253.1 1621.3,1234.8 1622.6,1220.2 1624.4,1210.8 1626.5,1206.4 1628.4,1206.4 1630.3,1210.8 1631.8,1220.2 1633.0,1234.8 1634.6,1253.1 1636.4,1275.0 1638.2,1300.5 1640.0,1329.7 1641.4,1358.7 1642.3,1387.5 1643.7,1407.9 1645.4,1420.0 1647.1,1428.4 1648.8,1433.4 1650.4,1434.2 1651.9,1430.9 1653.5,1424.6 1655.1,1415.3 1657.0,1399.9 1659.0,1378.4 1661.0,1362.5 1662.8,1352.3 1664.3,1346.3 1665.4,1344.4 1666.6,1344.8 1668.1,1347.4 1669.9,1351.9 1672.1,1358.5 1674.3,1363.0 1676.5,1365.6 1679.4,1366.0 1683.0,1364.1 1685.6,1361.4 1687.1,1357.8 1688.9,1353.0 1691.1,1347.2 1693.6,1342.8 1696.5,1339.9 1699.8,1336.6 1703.5,1333.0 1707.5,1330.2 1711.9,1328.4 1715.9,1327.1 1719.5,1326.4 1723.5,1324.7 1727.9,1322.2 1732.3,1319.5 1736.7,1316.5 1740.7,1314.0 1744.3,1311.8 1747.1,1309.2 1748.9,1306.3 1750.5,1300.1 1752.0,1290.6 1753.6,1280.4 1755.4,1269.5 1757.3,1262.4 1759.1,1259.1 1760.9,1257.8 1762.7,1258.5 1764.7,1260.9 1766.9,1264.9 1769.1,1267.7 1771.3,1269.1 1773.9,1269.7 1776.8,1269.3 1779.3,1268.9 1781.5,1268.6 1783.2,1271.3 1784.3,1277.1 1785.5,1285.2 1787.0,1295.4 1788.6,1304.0 1790.5,1310.9 1791.8,1313.4 1792.5,1311.6 1793.8,1308.5 1795.7,1304.2 1797.3,1301.1 1798.8,1299.2 1800.4,1299.2 1802.2,1301.1 1803.7,1299.8 1804.8,1295.4 1806.1,1291.0 1807.5,1286.7 1809.2,1283.4 1811.0,1281.2 1813.0,1279.9 1815.2,1279.5 1816.8,1276.6 1817.9,1271.1 1819.0,1266.8 1820.1,1263.5 1821.7,1261.3 1823.9,1260.2 1826.1,1260.0 1828.3,1260.8 1830.5,1262.2 1832.7,1264.4 1834.9,1266.4 1837.1,1268.2 1839.6,1269.0 1842.5,1268.6 1845.5,1268.0 1848.4,1267.3 1850.9,1268.0 1853.1,1270.2 1855.3,1271.9 1857.5,1273.0 1860.0,1273.2 1863.0,1272.4 1865.5,1271.5 1867.7,1270.4 1869.5,1268.4 1871.0,1265.5 1872.4,1262.6 1873.9,1259.7 1875.7,1257.6 1877.9,1256.6 1880.1,1256.4 1882.3,1257.1 1884.1,1258.7 1885.6,1261.3 1887.0,1262.2 1888.5,1261.5 1890.0,1259.7 1891.4,1256.7 1893.2,1254.7 1895.4,1253.6 1897.6,1252.9 1899.8,1252.5 1901.3,1248.0 1902.0,1239.2 1902.9,1225.7 1904.0,1207.5 1905.1,1192.9 1906.2,1182.0 1907.3,1172.1 1908.4,1163.3 1909.7,1157.5 1911.1,1154.6 1912.6,1153.0 1914.0,1152.6 1915.3,1153.7 1916.4,1156.2 1917.5,1160.4 1918.6,1166.3 1919.7,1172.1 1920.8,1177.9 1922.1,1185.2 1923.5,1194.0 1925.0,1202.0 1926.4,1209.3 1928.1,1214.4 1929.9,1217.3 1932.1,1218.6 1934.6,1218.3 1937.4,1217.3 1940.3,1215.9 1942.5,1214.8 1943.9,1214.1 1946.1,1214.2 1949.1,1215.3 1952.0,1215.7 1954.9,1215.3 1956.9,1215.9 1958.0,1217.3 1959.1,1219.9 1960.2,1223.5 1961.5,1226.3 1962.9,1228.1 1964.9,1229.6 1967.5,1230.7 1969.1,1233.9 1969.8,1239.4 1970.6,1245.8 1971.3,1253.1 1972.2,1259.8 1973.3,1266.0 1974.6,1271.5 1976.0,1276.3 1977.3,1278.3 1978.4,1277.5 1979.7,1275.2 1981.2,1271.1 1982.6,1266.2 1984.1,1260.4 1985.5,1254.5 1987.0,1248.7 1988.5,1243.8 1989.9,1239.8 1991.4,1237.9 1992.8,1238.3 1994.5,1239.4 1996.3,1241.2 1998.3,1243.1 2000.5,1244.9 2002.7,1246.5 2004.9,1248.0 2006.7,1250.4 2008.2,1253.6 2009.6,1256.3 2011.1,1258.3 2012.7,1259.7 2014.5,1260.5 2016.7,1260.1 2019.3,1258.6 2021.7,1256.6 2023.8,1254.0 2026.0,1252.3 2028.2,1251.6 2031.5,1251.4 2035.9,1251.8 2039.9,1252.5 2043.5,1253.4 2047.2,1253.8 2050.8,1253.8 2053.2,1251.8 2054.3,1247.8 2055.4,1243.2 2056.5,1238.1 2057.8,1233.9 2059.2,1230.7 2060.7,1228.8 2062.1,1228.5 2063.8,1229.2 2065.6,1231.0 2067.4,1233.9 2069.3,1237.9 2070.9,1242.1 2072.4,1246.5 2073.8,1250.5 2075.3,1254.2 2076.9,1256.4 2078.7,1257.1 2080.6,1257.6 2082.4,1257.8 2083.3,1257.9" fill="none" stroke="#FF1DA8" stroke-width="2.7" stroke-linejoin="round" stroke-linecap="butt" />
<polyline points="1529.0,1259.9 1531.5,1259.6 1536.5,1258.8 1540.8,1257.7 1544.4,1256.1 1547.5,1253.4 1550.1,1249.8 1553.0,1247.9 1556.3,1247.7 1559.4,1247.9 1562.3,1248.4 1564.7,1246.7 1566.5,1242.7 1568.3,1239.8 1570.2,1237.9 1572.3,1237.3 1574.9,1237.8 1577.2,1239.1 1579.1,1241.1 1580.5,1244.3 1581.3,1248.7 1581.9,1259.6 1582.3,1277.1 1582.7,1300.5 1583.3,1329.7 1583.7,1364.1 1583.8,1403.9 1584.4,1442.7 1585.2,1480.4 1586.5,1524.2 1588.1,1574.0 1590.1,1620.8 1592.2,1664.6 1594.2,1699.9 1595.8,1726.7 1597.2,1743.5 1598.3,1750.1 1599.5,1750.1 1600.8,1743.5 1602.1,1726.7 1603.6,1699.9 1605.1,1664.6 1606.7,1620.8 1608.4,1574.0 1610.0,1524.2 1611.4,1485.9 1612.5,1459.1 1613.9,1420.3 1615.7,1369.6 1617.2,1329.7 1618.3,1300.5 1619.5,1275.0 1620.6,1253.1 1621.8,1236.3 1623.3,1224.6 1624.9,1217.5 1626.7,1215.0 1628.3,1215.0 1629.7,1217.5 1631.2,1224.6 1632.6,1236.3 1634.3,1253.1 1636.1,1275.0 1637.9,1300.5 1639.7,1329.7 1641.1,1358.7 1642.1,1387.5 1643.4,1408.5 1645.1,1421.6 1646.7,1431.7 1648.3,1438.8 1650.0,1440.5 1651.6,1436.6 1653.3,1429.3 1654.9,1418.3 1656.8,1403.0 1659.0,1383.3 1661.0,1368.7 1662.8,1359.2 1664.3,1353.7 1665.4,1352.3 1666.6,1352.6 1668.1,1354.8 1669.9,1359.6 1672.1,1366.9 1674.3,1371.8 1676.5,1374.4 1679.4,1374.7 1683.0,1372.9 1685.6,1370.2 1687.1,1366.5 1688.9,1362.1 1691.1,1357.0 1693.6,1353.0 1696.5,1350.1 1699.8,1346.8 1703.5,1343.2 1707.5,1340.4 1711.9,1338.6 1715.9,1337.3 1719.5,1336.6 1723.5,1335.0 1727.9,1332.4 1732.3,1329.7 1736.7,1326.8 1740.7,1324.2 1744.3,1322.0 1747.1,1319.5 1748.9,1316.5 1750.5,1309.6 1752.0,1298.7 1753.6,1287.7 1755.4,1276.8 1757.3,1269.5 1759.1,1265.8 1760.9,1264.4 1762.7,1265.1 1764.7,1267.7 1766.9,1272.0 1769.1,1275.1 1771.3,1277.0 1773.9,1277.5 1776.8,1276.8 1779.3,1276.1 1781.5,1275.3 1783.2,1277.7 1784.3,1283.2 1785.5,1290.6 1787.0,1300.1 1788.6,1307.8 1790.5,1313.6 1791.8,1315.8 1792.5,1314.4 1793.8,1311.8 1795.7,1308.2 1797.3,1305.3 1798.8,1303.1 1800.4,1303.4 1802.2,1306.4 1803.7,1305.6 1804.8,1301.2 1806.1,1296.1 1807.5,1290.3 1809.2,1286.1 1811.0,1283.6 1813.0,1281.9 1815.2,1281.2 1816.8,1278.4 1817.9,1273.7 1819.0,1269.5 1820.1,1265.9 1821.7,1263.3 1823.9,1261.8 1826.1,1261.5 1828.3,1262.2 1830.5,1263.7 1832.7,1265.9 1834.9,1268.0 1837.1,1270.2 1839.6,1271.1 1842.5,1270.8 1845.5,1270.2 1848.4,1269.5 1850.9,1270.1 1853.1,1271.9 1855.3,1273.2 1857.5,1273.9 1860.0,1273.9 1863.0,1273.2 1865.5,1272.1 1867.7,1270.6 1869.5,1268.4 1871.0,1265.5 1872.4,1262.6 1873.9,1259.7 1875.7,1257.6 1877.9,1256.6 1880.1,1256.4 1882.3,1257.1 1884.1,1258.7 1885.6,1261.3 1887.0,1262.2 1888.5,1261.5 1890.0,1259.7 1891.4,1256.7 1893.2,1254.7 1895.4,1253.6 1897.6,1252.9 1899.8,1252.5 1901.3,1248.0 1902.0,1239.2 1902.9,1225.7 1904.0,1207.5 1905.1,1192.9 1906.2,1182.0 1907.3,1172.1 1908.4,1163.3 1909.7,1157.3 1911.1,1154.0 1912.6,1152.2 1914.0,1151.9 1915.3,1153.1 1916.4,1156.1 1917.5,1160.4 1918.6,1166.3 1919.7,1172.1 1920.8,1177.9 1922.1,1185.2 1923.5,1194.0 1925.0,1202.0 1926.4,1209.3 1928.1,1214.2 1929.9,1216.8 1932.1,1217.9 1934.6,1217.5 1937.4,1216.6 1940.3,1215.1 1942.5,1214.1 1943.9,1213.3 1946.1,1213.5 1949.1,1214.6 1952.0,1215.0 1954.9,1214.6 1956.9,1215.1 1958.0,1216.6 1959.1,1219.2 1960.2,1222.8 1961.5,1225.5 1962.9,1227.4 1964.9,1228.8 1967.5,1229.9 1969.1,1233.4 1969.8,1239.2 1970.6,1245.8 1971.3,1253.1 1972.2,1259.7 1973.3,1265.5 1974.6,1270.6 1976.0,1275.0 1977.3,1276.8 1978.4,1276.1 1979.7,1273.9 1981.2,1270.2 1982.6,1265.5 1984.1,1259.7 1985.5,1253.8 1987.0,1248.0 1988.5,1243.1 1989.9,1239.0 1991.4,1237.2 1992.8,1237.6 1994.5,1238.7 1996.3,1240.5 1998.3,1242.3 2000.5,1244.2 2002.7,1245.8 2004.9,1247.3 2006.7,1249.4 2008.2,1252.4 2009.6,1254.7 2011.1,1256.6 2012.7,1257.8 2014.5,1258.6 2016.7,1258.4 2019.3,1257.3 2021.7,1255.6 2023.8,1253.5 2026.0,1252.0 2028.2,1251.3 2031.5,1251.1 2035.9,1251.4 2039.9,1252.0 2043.5,1252.7 2047.2,1253.1 2050.8,1253.1 2053.2,1251.1 2054.3,1247.1 2055.4,1242.5 2056.5,1237.4 2057.8,1233.2 2059.2,1229.9 2060.7,1228.1 2062.1,1227.7 2063.8,1228.5 2065.6,1230.3 2067.4,1233.2 2069.3,1237.2 2070.9,1241.4 2072.4,1245.8 2073.8,1249.8 2075.3,1253.5 2076.9,1255.6 2078.7,1256.4 2080.6,1256.9 2082.4,1257.3 2083.3,1257.5" fill="none" stroke="#7E2F8E" stroke-width="2.7" stroke-linejoin="round" stroke-linecap="butt" />
</g>
<text x="1591.00" y="1825.20" font-size="48" fill="#262626" text-anchor="middle" >16.06</text>
<text x="1713.90" y="1825.20" font-size="48" fill="#262626" text-anchor="middle" >16.08</text>
<text x="1835.00" y="1825.20" font-size="48" fill="#262626" text-anchor="middle" >16.1</text>
<text x="1958.30" y="1825.20" font-size="48" fill="#262626" text-anchor="middle" >16.12</text>
<text x="2079.00" y="1825.20" font-size="48" fill="#262626" text-anchor="middle" >16.14</text>
<text x="1512.40" y="1271.70" font-size="48" fill="#262626" text-anchor="end" >400</text>
<text x="1512.40" y="1395.40" font-size="48" fill="#262626" text-anchor="end" >399.9</text>
<text x="1512.40" y="1518.30" font-size="48" fill="#262626" text-anchor="end" >399.8</text>
<text x="1512.40" y="1643.70" font-size="48" fill="#262626" text-anchor="end" >399.7</text>
<text x="1512.40" y="1766.50" font-size="48" fill="#262626" text-anchor="end" >399.6</text>
<text x="2028.00" y="1698.00" font-size="50" fill="#000" text-anchor="middle" >(3)</text>
</g>
</svg>
</body>
</html>
